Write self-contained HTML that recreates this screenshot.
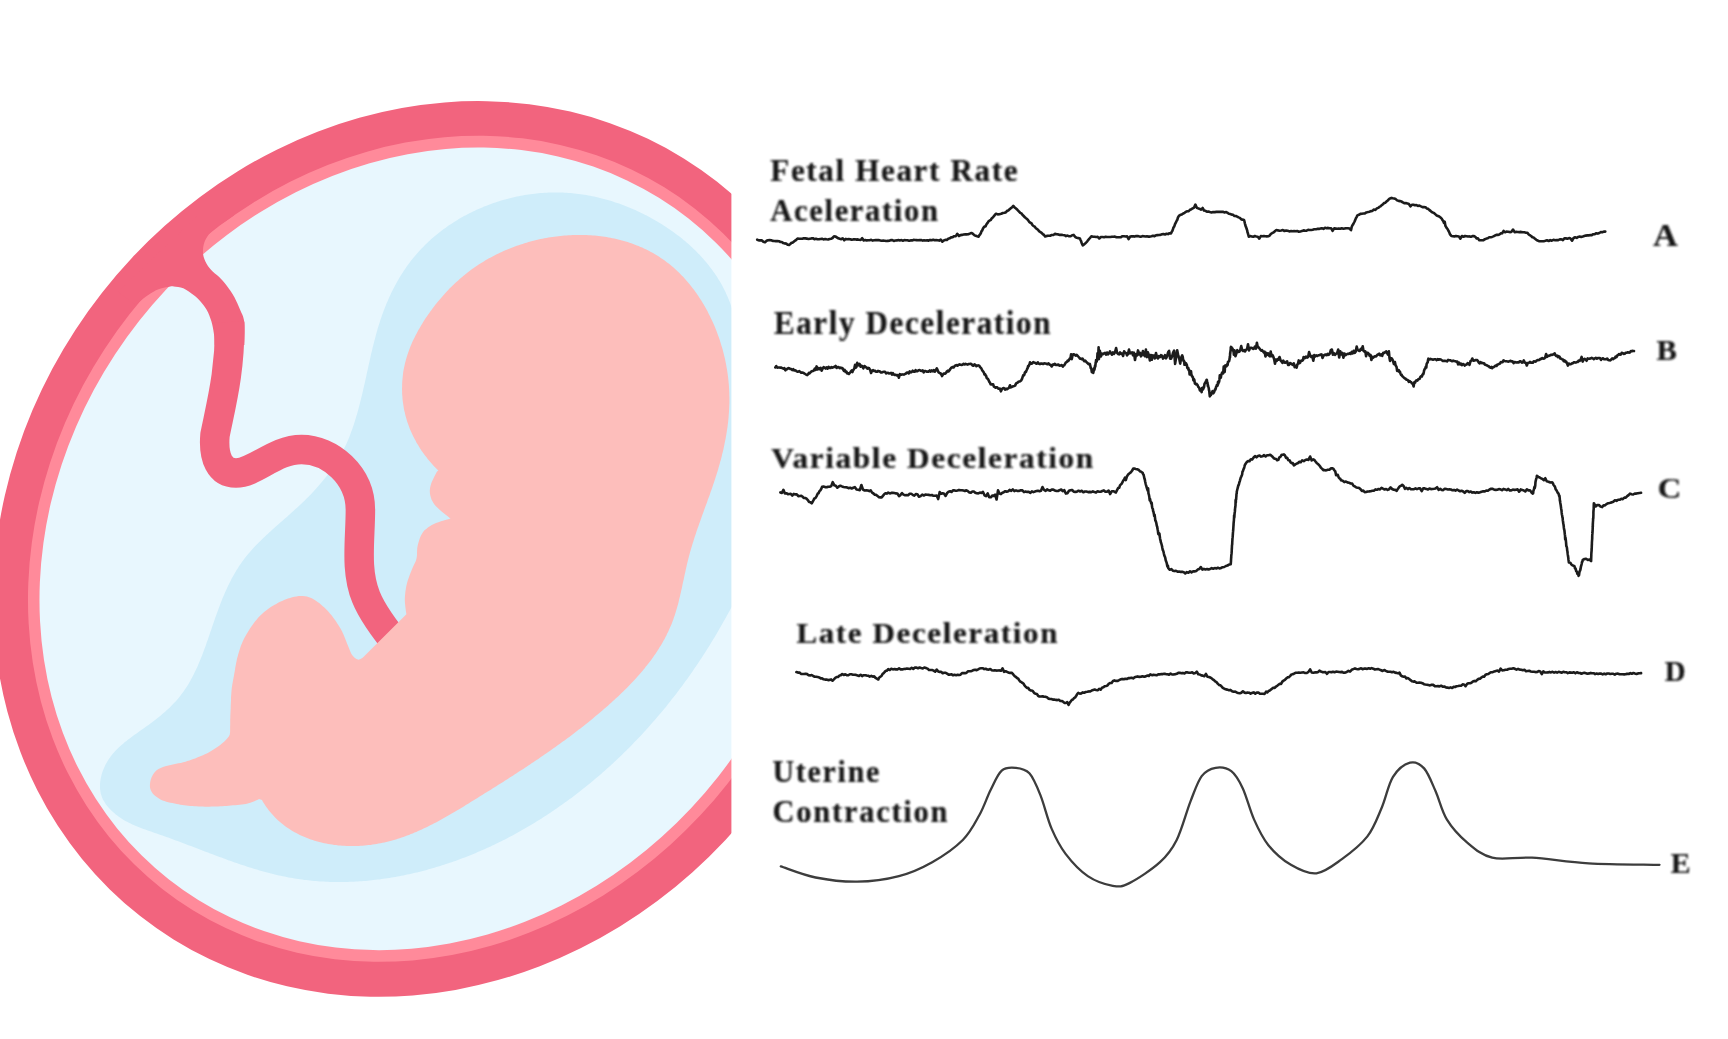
<!DOCTYPE html>
<html><head><meta charset="utf-8">
<style>
html,body{margin:0;padding:0;background:#fff;}
body{width:1728px;height:1039px;overflow:hidden;position:relative;}
svg{position:absolute;left:0;top:0;display:block;}
</style></head>
<body>
<svg width="1728" height="1039" viewBox="0 0 1728 1039">
<defs>
<mask id="clipL" maskUnits="userSpaceOnUse" x="0" y="0" width="1728" height="1039"><rect x="0" y="0" width="731.4" height="1039" fill="#fff"/></mask>
<filter id="blur1" x="-5%" y="-20%" width="110%" height="140%"><feGaussianBlur stdDeviation="0.75"/></filter>
<filter id="blur2" x="-5%" y="-20%" width="110%" height="140%"><feGaussianBlur stdDeviation="1.0"/></filter>
</defs>
<g mask="url(#clipL)">
<ellipse cx="428.65" cy="548.94" rx="415.15" ry="466.91" transform="rotate(38.16 428.65 548.94)" fill="#F2647E"/>
<ellipse cx="428.58" cy="548.80" rx="380.10" ry="431.99" transform="rotate(38.06 428.58 548.80)" fill="#FF8A9A"/>
<ellipse cx="428.58" cy="548.85" rx="368.44" ry="420.34" transform="rotate(38.20 428.58 548.85)" fill="#E8F7FE"/>
<path d="M556.6 192.5 L558.6 192.5 L560.6 192.6 L562.6 192.6 L564.6 192.7 L566.6 192.8 L568.6 193.0 L570.6 193.1 L572.5 193.3 L574.5 193.5 L576.5 193.7 L578.5 194.0 L580.4 194.2 L582.4 194.5 L584.4 194.8 L586.3 195.1 L588.3 195.5 L590.3 195.8 L592.2 196.2 L594.2 196.6 L596.1 197.0 L598.1 197.5 L600.0 198.0 L601.9 198.4 L603.9 198.9 L605.8 199.5 L607.7 200.0 L609.6 200.6 L611.5 201.1 L613.4 201.7 L615.3 202.4 L617.2 203.0 L619.1 203.6 L621.0 204.3 L622.9 205.0 L624.7 205.7 L626.6 206.4 L628.4 207.2 L630.3 208.0 L632.1 208.7 L634.0 209.5 L635.8 210.3 L637.6 211.2 L639.4 212.0 L641.2 212.9 L643.0 213.8 L644.8 214.7 L646.6 215.6 L648.4 216.5 L650.2 217.5 L651.9 218.5 L653.7 219.4 L655.4 220.4 L657.2 221.5 L658.9 222.5 L660.6 223.5 L662.3 224.6 L664.0 225.7 L665.7 226.8 L667.4 227.9 L669.0 229.0 L670.7 230.2 L672.3 231.3 L674.0 232.5 L675.6 233.7 L677.2 234.9 L678.8 236.1 L680.4 237.3 L682.0 238.6 L683.5 239.9 L685.0 241.1 L686.6 242.4 L688.1 243.8 L689.6 245.1 L691.1 246.4 L692.5 247.8 L694.0 249.2 L695.4 250.6 L696.8 252.0 L698.2 253.4 L699.6 254.8 L700.9 256.3 L702.3 257.8 L703.6 259.2 L704.9 260.7 L706.2 262.3 L707.4 263.8 L708.7 265.3 L709.9 266.9 L711.1 268.5 L712.3 270.1 L713.4 271.7 L714.6 273.3 L715.7 274.9 L716.8 276.6 L717.8 278.2 L718.9 279.9 L719.9 281.6 L720.9 283.3 L721.9 285.0 L722.8 286.8 L723.7 288.5 L724.6 290.3 L725.5 292.1 L726.3 293.9 L727.1 295.7 L727.9 297.5 L728.7 299.4 L729.4 301.2 L730.1 303.1 L730.8 305.0 L731.4 306.9 L732.1 308.8 L732.7 310.7 L733.3 312.7 L733.9 314.6 L734.4 316.5 L735.0 318.5 L735.5 320.5 L736.0 322.4 L736.5 324.4 L737.0 326.4 L737.5 328.3 L738.0 330.3 L738.5 332.3 L739.0 334.3 L739.4 336.3 L739.9 338.3 L740.4 340.2 L740.8 342.2 L741.3 344.2 L741.8 346.2 L742.3 348.1 L742.8 350.1 L743.3 352.1 L743.8 354.0 L744.3 356.0 L744.8 357.9 L745.3 359.9 L745.8 361.8 L746.3 363.7 L746.8 365.7 L747.3 367.6 L747.8 369.5 L748.3 371.5 L748.8 373.4 L749.4 375.3 L749.9 377.3 L750.4 379.2 L750.9 381.1 L751.4 383.0 L751.9 385.0 L752.4 386.9 L752.9 388.8 L753.4 390.8 L753.9 392.7 L754.4 394.6 L754.8 396.5 L755.3 398.5 L755.8 400.4 L756.2 402.3 L756.7 404.3 L757.2 406.2 L757.6 408.2 L758.0 410.1 L758.5 412.0 L758.9 414.0 L759.3 415.9 L759.7 417.9 L760.1 419.9 L760.5 421.8 L760.8 423.8 L761.2 425.8 L761.6 427.8 L761.9 429.7 L762.2 431.7 L762.6 433.7 L762.9 435.7 L763.2 437.7 L763.4 439.7 L763.7 441.7 L764.0 443.7 L764.2 445.7 L764.5 447.7 L764.7 449.7 L764.9 451.7 L765.1 453.7 L765.3 455.7 L765.5 457.7 L765.6 459.7 L765.8 461.8 L765.9 463.8 L766.1 465.8 L766.2 467.8 L766.3 469.8 L766.3 471.8 L766.4 473.9 L766.5 475.9 L766.5 477.9 L766.5 479.9 L766.5 481.9 L766.5 484.0 L766.5 486.0 L766.5 488.0 L766.4 490.0 L766.4 492.0 L766.3 494.0 L766.2 496.0 L766.1 498.0 L765.9 500.0 L765.8 502.1 L765.6 504.1 L765.4 506.1 L765.2 508.1 L765.0 510.1 L764.8 512.0 L764.5 514.0 L764.3 516.0 L764.0 518.0 L763.7 520.0 L763.4 522.0 L763.0 523.9 L762.7 525.9 L762.3 527.9 L761.9 529.8 L761.5 531.8 L761.0 533.8 L760.6 535.7 L760.1 537.7 L759.6 539.6 L759.1 541.5 L758.6 543.5 L758.0 545.4 L757.4 547.3 L756.9 549.2 L756.3 551.1 L755.6 553.0 L755.0 554.9 L754.3 556.8 L753.7 558.7 L753.0 560.6 L752.3 562.5 L751.5 564.4 L750.8 566.3 L750.1 568.1 L749.3 570.0 L748.5 571.9 L747.7 573.7 L747.0 575.6 L746.1 577.4 L745.3 579.3 L744.5 581.1 L743.6 582.9 L742.8 584.8 L741.9 586.6 L741.1 588.4 L740.2 590.2 L739.3 592.0 L738.4 593.9 L737.5 595.7 L736.6 597.5 L735.6 599.3 L734.7 601.1 L733.8 602.9 L732.9 604.6 L731.9 606.4 L731.0 608.2 L730.0 610.0 L729.1 611.8 L728.1 613.5 L727.1 615.3 L726.2 617.1 L725.2 618.8 L724.2 620.6 L723.2 622.3 L722.2 624.1 L721.2 625.8 L720.2 627.5 L719.2 629.3 L718.2 631.0 L717.2 632.7 L716.2 634.5 L715.2 636.2 L714.1 637.9 L713.1 639.6 L712.1 641.3 L711.0 643.0 L710.0 644.7 L708.9 646.4 L707.9 648.1 L706.8 649.8 L705.7 651.5 L704.6 653.2 L703.6 654.8 L702.5 656.5 L701.4 658.2 L700.3 659.8 L699.2 661.5 L698.1 663.2 L697.0 664.8 L695.9 666.5 L694.7 668.1 L693.6 669.8 L692.5 671.4 L691.4 673.0 L690.2 674.7 L689.1 676.3 L687.9 677.9 L686.8 679.5 L685.6 681.1 L684.4 682.7 L683.3 684.3 L682.1 685.9 L680.9 687.5 L679.7 689.1 L678.5 690.7 L677.3 692.3 L676.1 693.9 L674.9 695.4 L673.7 697.0 L672.4 698.6 L671.2 700.1 L670.0 701.7 L668.7 703.3 L667.5 704.8 L666.3 706.4 L665.0 707.9 L663.7 709.4 L662.5 711.0 L661.2 712.5 L659.9 714.0 L658.6 715.5 L657.3 717.1 L656.1 718.6 L654.8 720.1 L653.4 721.6 L652.1 723.1 L650.8 724.6 L649.5 726.1 L648.2 727.5 L646.8 729.0 L645.5 730.5 L644.1 732.0 L642.8 733.4 L641.4 734.9 L640.1 736.4 L638.7 737.8 L637.3 739.3 L635.9 740.7 L634.5 742.1 L633.2 743.6 L631.8 745.0 L630.4 746.4 L628.9 747.9 L627.5 749.3 L626.1 750.7 L624.7 752.1 L623.2 753.5 L621.8 754.9 L620.4 756.3 L618.9 757.7 L617.5 759.1 L616.0 760.4 L614.5 761.8 L613.1 763.2 L611.6 764.5 L610.1 765.9 L608.6 767.2 L607.1 768.6 L605.6 769.9 L604.1 771.3 L602.6 772.6 L601.1 773.9 L599.6 775.2 L598.1 776.5 L596.5 777.8 L595.0 779.1 L593.4 780.4 L591.9 781.7 L590.4 783.0 L588.8 784.3 L587.2 785.5 L585.7 786.8 L584.1 788.1 L582.5 789.3 L580.9 790.6 L579.4 791.8 L577.8 793.0 L576.2 794.2 L574.6 795.5 L573.0 796.7 L571.4 797.9 L569.7 799.1 L568.1 800.3 L566.5 801.5 L564.9 802.6 L563.2 803.8 L561.6 805.0 L559.9 806.1 L558.3 807.3 L556.6 808.4 L555.0 809.6 L553.3 810.7 L551.7 811.8 L550.0 813.0 L548.3 814.1 L546.6 815.2 L544.9 816.3 L543.3 817.3 L541.6 818.4 L539.9 819.5 L538.2 820.6 L536.5 821.6 L534.7 822.7 L533.0 823.7 L531.3 824.8 L529.6 825.8 L527.8 826.8 L526.1 827.8 L524.4 828.8 L522.6 829.8 L520.9 830.8 L519.1 831.8 L517.4 832.8 L515.6 833.7 L513.9 834.7 L512.1 835.7 L510.3 836.6 L508.5 837.5 L506.8 838.5 L505.0 839.4 L503.2 840.3 L501.4 841.2 L499.6 842.1 L497.8 843.0 L496.0 843.8 L494.2 844.7 L492.4 845.6 L490.6 846.4 L488.8 847.3 L486.9 848.1 L485.1 848.9 L483.3 849.7 L481.4 850.5 L479.6 851.3 L477.8 852.1 L475.9 852.9 L474.1 853.7 L472.2 854.4 L470.4 855.2 L468.5 855.9 L466.6 856.7 L464.8 857.4 L462.9 858.1 L461.0 858.8 L459.1 859.5 L457.3 860.2 L455.4 860.9 L453.5 861.5 L451.6 862.2 L449.7 862.8 L447.8 863.5 L445.9 864.1 L444.0 864.7 L442.1 865.3 L440.2 865.9 L438.3 866.5 L436.3 867.1 L434.4 867.7 L432.5 868.2 L430.6 868.8 L428.6 869.3 L426.7 869.9 L424.8 870.4 L422.8 870.9 L420.9 871.4 L418.9 871.9 L417.0 872.4 L415.0 872.8 L413.1 873.3 L411.1 873.7 L409.2 874.2 L407.2 874.6 L405.2 875.0 L403.3 875.4 L401.3 875.8 L399.3 876.2 L397.4 876.6 L395.4 876.9 L393.4 877.3 L391.5 877.6 L389.5 877.9 L387.5 878.2 L385.5 878.5 L383.5 878.8 L381.6 879.1 L379.6 879.4 L377.6 879.6 L375.6 879.8 L373.6 880.1 L371.6 880.3 L369.6 880.5 L367.7 880.7 L365.7 880.9 L363.7 881.0 L361.7 881.2 L359.7 881.3 L357.7 881.5 L355.7 881.6 L353.7 881.7 L351.7 881.8 L349.8 881.8 L347.8 881.9 L345.8 882.0 L343.8 882.0 L341.8 882.0 L339.8 882.0 L337.8 882.0 L335.8 882.0 L333.8 882.0 L331.9 881.9 L329.9 881.9 L327.9 881.8 L325.9 881.7 L323.9 881.6 L321.9 881.5 L320.0 881.4 L318.0 881.3 L316.0 881.1 L314.0 880.9 L312.0 880.7 L310.1 880.5 L308.1 880.3 L306.1 880.1 L304.2 879.9 L302.2 879.6 L300.2 879.3 L298.3 879.1 L296.3 878.8 L294.4 878.4 L292.4 878.1 L290.4 877.8 L288.5 877.4 L286.6 877.0 L284.6 876.6 L282.7 876.2 L280.7 875.8 L278.8 875.4 L276.8 874.9 L274.9 874.5 L273.0 874.0 L271.0 873.5 L269.1 873.0 L267.2 872.5 L265.3 872.0 L263.3 871.5 L261.4 870.9 L259.5 870.4 L257.6 869.8 L255.7 869.3 L253.8 868.7 L251.8 868.1 L249.9 867.5 L248.0 866.9 L246.1 866.3 L244.2 865.6 L242.3 865.0 L240.4 864.4 L238.5 863.7 L236.6 863.1 L234.7 862.4 L232.8 861.7 L230.9 861.1 L229.0 860.4 L227.1 859.7 L225.2 859.0 L223.3 858.3 L221.4 857.6 L219.5 856.9 L217.6 856.2 L215.7 855.5 L213.8 854.8 L211.9 854.1 L210.0 853.4 L208.1 852.6 L206.2 851.9 L204.3 851.2 L202.4 850.5 L200.5 849.7 L198.6 849.0 L196.7 848.3 L194.8 847.6 L192.9 846.8 L191.0 846.1 L189.1 845.4 L187.2 844.7 L185.3 843.9 L183.4 843.2 L181.5 842.5 L179.6 841.8 L177.7 841.1 L175.8 840.4 L173.9 839.7 L172.0 839.0 L170.1 838.3 L168.2 837.6 L166.3 836.9 L164.4 836.2 L162.5 835.5 L160.6 834.9 L158.6 834.2 L156.7 833.5 L154.8 832.9 L152.9 832.2 L151.0 831.6 L149.1 830.9 L147.2 830.2 L145.3 829.5 L143.4 828.9 L141.6 828.2 L139.7 827.4 L137.9 826.7 L136.0 826.0 L134.2 825.2 L132.4 824.4 L130.6 823.5 L128.9 822.7 L127.1 821.8 L125.4 820.9 L123.7 819.9 L122.1 818.9 L120.4 817.8 L118.8 816.7 L117.2 815.6 L115.7 814.4 L114.2 813.1 L112.7 811.8 L111.3 810.5 L109.9 809.0 L108.5 807.6 L107.2 806.0 L106.0 804.4 L104.9 802.8 L103.9 801.1 L102.9 799.4 L102.1 797.6 L101.5 795.8 L100.9 793.9 L100.5 792.0 L100.2 790.0 L100.0 788.1 L100.0 786.1 L100.0 784.1 L100.2 782.1 L100.5 780.1 L100.8 778.1 L101.3 776.1 L101.8 774.1 L102.4 772.1 L103.1 770.2 L103.9 768.2 L104.7 766.4 L105.6 764.5 L106.6 762.7 L107.6 761.0 L108.7 759.3 L109.8 757.7 L111.0 756.1 L112.2 754.5 L113.5 753.0 L114.8 751.5 L116.2 750.1 L117.5 748.7 L119.0 747.3 L120.4 746.0 L121.9 744.7 L123.4 743.4 L124.9 742.1 L126.5 740.9 L128.1 739.6 L129.7 738.4 L131.3 737.2 L132.9 736.0 L134.5 734.8 L136.2 733.7 L137.9 732.5 L139.5 731.3 L141.2 730.1 L142.8 729.0 L144.5 727.8 L146.2 726.6 L147.8 725.4 L149.5 724.2 L151.1 722.9 L152.8 721.7 L154.4 720.5 L156.0 719.2 L157.6 718.0 L159.2 716.7 L160.8 715.4 L162.3 714.1 L163.9 712.8 L165.4 711.5 L166.9 710.1 L168.4 708.8 L169.8 707.4 L171.2 706.0 L172.6 704.6 L174.0 703.1 L175.4 701.7 L176.7 700.2 L178.0 698.7 L179.2 697.2 L180.4 695.7 L181.6 694.1 L182.8 692.5 L183.9 690.9 L185.0 689.3 L186.1 687.7 L187.2 686.1 L188.2 684.4 L189.2 682.7 L190.2 681.0 L191.1 679.3 L192.1 677.6 L193.0 675.8 L193.9 674.1 L194.7 672.3 L195.6 670.5 L196.4 668.7 L197.3 666.9 L198.1 665.1 L198.8 663.3 L199.6 661.4 L200.4 659.6 L201.1 657.7 L201.9 655.9 L202.6 654.0 L203.3 652.1 L204.0 650.2 L204.7 648.3 L205.4 646.4 L206.1 644.5 L206.7 642.6 L207.4 640.7 L208.1 638.8 L208.7 636.9 L209.4 634.9 L210.0 633.0 L210.7 631.1 L211.4 629.2 L212.0 627.2 L212.7 625.3 L213.3 623.4 L214.0 621.5 L214.7 619.5 L215.3 617.6 L216.0 615.7 L216.7 613.8 L217.4 611.9 L218.1 610.0 L218.8 608.1 L219.5 606.2 L220.2 604.3 L220.9 602.4 L221.7 600.5 L222.4 598.6 L223.2 596.8 L224.0 594.9 L224.8 593.1 L225.6 591.2 L226.4 589.4 L227.3 587.6 L228.1 585.8 L229.0 584.0 L229.9 582.2 L230.8 580.4 L231.7 578.6 L232.6 576.9 L233.6 575.2 L234.6 573.4 L235.6 571.7 L236.6 570.0 L237.7 568.4 L238.7 566.7 L239.8 565.1 L241.0 563.4 L242.1 561.8 L243.3 560.2 L244.5 558.6 L245.7 557.1 L246.9 555.5 L248.2 554.0 L249.5 552.5 L250.8 551.0 L252.1 549.5 L253.4 548.0 L254.8 546.6 L256.2 545.1 L257.6 543.7 L259.0 542.3 L260.4 540.9 L261.8 539.5 L263.3 538.1 L264.7 536.7 L266.2 535.3 L267.7 533.9 L269.2 532.5 L270.7 531.2 L272.2 529.8 L273.7 528.5 L275.2 527.1 L276.7 525.8 L278.2 524.4 L279.8 523.1 L281.3 521.7 L282.8 520.4 L284.3 519.1 L285.9 517.7 L287.4 516.4 L288.9 515.0 L290.4 513.7 L291.9 512.3 L293.4 511.0 L294.9 509.6 L296.4 508.3 L297.9 506.9 L299.4 505.6 L300.8 504.2 L302.3 502.8 L303.7 501.4 L305.2 500.0 L306.6 498.6 L308.0 497.2 L309.4 495.8 L310.8 494.4 L312.1 492.9 L313.5 491.5 L314.8 490.0 L316.2 488.6 L317.5 487.1 L318.8 485.6 L320.1 484.1 L321.4 482.6 L322.6 481.1 L323.9 479.6 L325.1 478.1 L326.3 476.5 L327.5 475.0 L328.7 473.4 L329.9 471.8 L331.0 470.2 L332.1 468.6 L333.2 467.0 L334.3 465.4 L335.4 463.7 L336.5 462.1 L337.5 460.4 L338.5 458.7 L339.5 457.0 L340.5 455.3 L341.5 453.6 L342.4 451.8 L343.3 450.1 L344.2 448.3 L345.1 446.5 L346.0 444.7 L346.8 442.9 L347.6 441.0 L348.4 439.2 L349.2 437.3 L349.9 435.4 L350.6 433.5 L351.3 431.6 L352.0 429.7 L352.7 427.8 L353.4 425.8 L354.0 423.9 L354.6 422.0 L355.2 420.0 L355.8 418.1 L356.4 416.1 L357.0 414.2 L357.5 412.2 L358.1 410.3 L358.6 408.3 L359.1 406.4 L359.6 404.4 L360.1 402.5 L360.6 400.5 L361.1 398.5 L361.6 396.6 L362.1 394.6 L362.5 392.7 L363.0 390.7 L363.4 388.8 L363.9 386.8 L364.3 384.8 L364.8 382.9 L365.2 380.9 L365.6 379.0 L366.1 377.0 L366.5 375.1 L366.9 373.1 L367.3 371.2 L367.8 369.2 L368.2 367.3 L368.6 365.3 L369.0 363.4 L369.5 361.4 L369.9 359.5 L370.4 357.5 L370.8 355.6 L371.2 353.6 L371.7 351.7 L372.2 349.7 L372.6 347.8 L373.1 345.9 L373.6 343.9 L374.1 342.0 L374.6 340.1 L375.1 338.2 L375.6 336.2 L376.1 334.3 L376.6 332.4 L377.2 330.5 L377.7 328.6 L378.3 326.7 L378.9 324.8 L379.5 322.9 L380.1 321.0 L380.7 319.1 L381.4 317.2 L382.0 315.3 L382.7 313.4 L383.4 311.5 L384.1 309.7 L384.8 307.8 L385.6 305.9 L386.3 304.1 L387.1 302.2 L387.9 300.4 L388.7 298.6 L389.5 296.7 L390.4 294.9 L391.2 293.1 L392.1 291.3 L393.0 289.5 L393.9 287.7 L394.8 286.0 L395.8 284.2 L396.7 282.5 L397.7 280.7 L398.7 279.0 L399.7 277.3 L400.8 275.6 L401.8 273.9 L402.9 272.2 L404.0 270.5 L405.1 268.9 L406.2 267.2 L407.4 265.6 L408.6 264.0 L409.7 262.4 L410.9 260.8 L412.2 259.3 L413.4 257.7 L414.7 256.2 L416.0 254.7 L417.3 253.2 L418.6 251.7 L420.0 250.2 L421.3 248.8 L422.7 247.4 L424.1 245.9 L425.5 244.5 L426.9 243.2 L428.4 241.8 L429.9 240.4 L431.3 239.1 L432.8 237.8 L434.3 236.5 L435.9 235.2 L437.4 234.0 L439.0 232.7 L440.6 231.5 L442.1 230.3 L443.7 229.1 L445.4 227.9 L447.0 226.7 L448.6 225.6 L450.3 224.5 L452.0 223.4 L453.7 222.3 L455.4 221.2 L457.1 220.2 L458.8 219.1 L460.5 218.1 L462.3 217.1 L464.0 216.1 L465.8 215.2 L467.6 214.3 L469.4 213.3 L471.2 212.4 L473.0 211.5 L474.8 210.7 L476.6 209.8 L478.5 209.0 L480.3 208.2 L482.2 207.4 L484.0 206.6 L485.9 205.9 L487.8 205.2 L489.7 204.5 L491.6 203.8 L493.5 203.1 L495.4 202.4 L497.3 201.8 L499.2 201.2 L501.1 200.6 L503.1 200.0 L505.0 199.5 L507.0 199.0 L508.9 198.4 L510.9 198.0 L512.8 197.5 L514.8 197.0 L516.8 196.6 L518.7 196.2 L520.7 195.8 L522.7 195.5 L524.7 195.1 L526.7 194.8 L528.6 194.5 L530.6 194.2 L532.6 193.9 L534.6 193.7 L536.6 193.5 L538.6 193.3 L540.6 193.1 L542.6 193.0 L544.6 192.8 L546.6 192.7 L548.6 192.6 L550.6 192.6 L552.6 192.5 L554.6 192.5 L556.6 192.5 Z" fill="#CFEDFA"/>
<path d="M234.0 215.5 C232.8 216.3 229.4 218.7 226.6 220.5 C223.8 222.3 219.7 224.5 217.0 226.5 C214.3 228.5 212.4 229.9 210.3 232.5 C208.2 235.1 205.7 238.7 204.5 242.1 C203.3 245.5 202.8 249.5 203.0 252.7 C203.2 255.9 204.0 258.5 205.4 261.4 C206.8 264.3 208.9 267.4 211.2 270.0 C213.4 272.6 216.3 274.2 218.9 276.8 C221.5 279.4 224.0 282.0 226.6 285.4 C229.2 288.8 232.1 293.0 234.3 297.0 C236.5 301.0 238.3 305.3 240.0 309.5 C241.7 313.7 243.6 316.1 244.3 322.0 C245.0 327.9 244.4 341.2 244.4 345.0 L214.8 345.0 C214.6 343.0 214.4 337.0 213.8 333.0 C213.2 329.0 212.5 324.8 211.3 321.0 C210.1 317.2 208.6 313.2 206.8 310.0 C205.0 306.8 202.7 303.9 200.5 301.5 C198.3 299.1 196.8 297.5 193.9 295.3 C191.0 293.1 186.7 289.8 183.3 288.3 C179.9 286.8 176.3 286.6 173.7 286.4 C171.1 286.2 170.2 286.6 167.9 287.0 C165.6 287.4 162.2 288.1 160.0 288.8 C157.8 289.5 156.7 289.9 154.4 291.2 C152.1 292.5 149.1 294.2 146.0 296.5 C142.9 298.8 137.7 303.6 136.0 305.0 L118 292 L216 198 Z" fill="#F2647E"/>
<path d="M229.6 322 C230.5 370 221 405 215 435 C213 458 220 473 236 473 C255 473 275 449.4 301.5 449.4 C330 449.4 360.4 475 360.4 510 C360.4 540 355 570 366 597 C372 612 385 630 400 648" fill="none" stroke="#F2647E" stroke-width="29.5" stroke-linecap="butt"/>
<path d="M450.6 518.6 L450.1 518.2 L449.1 517.4 L447.7 516.3 L446.0 515.0 L444.1 513.5 L442.2 511.9 L440.2 510.2 L438.3 508.5 L436.5 506.8 L435.0 505.2 L433.9 503.8 L432.6 501.6 L431.5 499.5 L430.8 497.3 L430.2 495.1 L429.9 493.0 L429.8 490.6 L430.0 488.3 L430.5 486.0 L431.2 483.6 L432.0 481.4 L433.2 478.9 L434.5 476.3 L435.7 474.0 L436.6 472.3 L437.1 471.4 L438.4 470.6 L437.0 469.2 L435.6 467.8 L434.2 466.4 L432.9 464.9 L431.6 463.5 L430.3 462.0 L429.0 460.5 L427.7 458.9 L426.5 457.3 L425.2 455.8 L424.1 454.2 L422.9 452.5 L421.7 450.9 L420.6 449.2 L419.5 447.5 L418.5 445.8 L417.4 444.1 L416.4 442.4 L415.5 440.6 L414.5 438.8 L413.6 437.1 L412.7 435.3 L411.9 433.4 L411.0 431.6 L410.2 429.8 L409.5 427.9 L408.8 426.0 L408.1 424.1 L407.4 422.3 L406.8 420.3 L406.3 418.4 L405.7 416.5 L405.2 414.6 L404.8 412.6 L404.3 410.7 L403.9 408.7 L403.6 406.7 L403.3 404.8 L403.0 402.8 L402.7 400.8 L402.5 398.8 L402.4 396.8 L402.2 394.8 L402.1 392.9 L402.1 390.9 L402.0 388.9 L402.1 386.9 L402.1 384.9 L402.2 382.9 L402.3 380.9 L402.5 378.9 L402.7 377.0 L402.9 375.0 L403.1 373.0 L403.4 371.1 L403.8 369.1 L404.2 367.1 L404.6 365.2 L405.0 363.3 L405.5 361.4 L406.0 359.4 L406.6 357.5 L407.2 355.6 L407.8 353.8 L408.4 351.9 L409.1 350.0 L409.8 348.2 L410.5 346.3 L411.3 344.5 L412.1 342.6 L412.9 340.8 L413.8 339.0 L414.7 337.2 L415.5 335.4 L416.5 333.7 L417.4 331.9 L418.4 330.1 L419.4 328.4 L420.4 326.7 L421.4 324.9 L422.5 323.2 L423.5 321.5 L424.6 319.8 L425.7 318.1 L426.9 316.5 L428.0 314.8 L429.2 313.2 L430.3 311.5 L431.5 309.9 L432.7 308.3 L433.9 306.7 L435.1 305.1 L436.4 303.6 L437.6 302.0 L438.9 300.5 L440.2 298.9 L441.5 297.4 L442.8 295.9 L444.1 294.4 L445.4 293.0 L446.8 291.5 L448.2 290.1 L449.5 288.6 L450.9 287.2 L452.4 285.8 L453.8 284.4 L455.2 283.1 L456.7 281.7 L458.2 280.4 L459.7 279.0 L461.2 277.7 L462.7 276.5 L464.2 275.2 L465.8 273.9 L467.3 272.7 L468.9 271.5 L470.5 270.3 L472.1 269.1 L473.7 267.9 L475.4 266.8 L477.0 265.7 L478.7 264.6 L480.4 263.5 L482.1 262.4 L483.8 261.4 L485.5 260.3 L487.3 259.3 L489.0 258.3 L490.8 257.4 L492.6 256.4 L494.4 255.5 L496.2 254.6 L498.0 253.7 L499.9 252.8 L501.7 251.9 L503.6 251.1 L505.4 250.3 L507.3 249.5 L509.2 248.7 L511.1 248.0 L513.0 247.2 L514.9 246.5 L516.8 245.8 L518.7 245.2 L520.7 244.5 L522.6 243.9 L524.5 243.3 L526.5 242.7 L528.5 242.1 L530.4 241.6 L532.4 241.0 L534.4 240.5 L536.4 240.1 L538.4 239.6 L540.4 239.1 L542.4 238.7 L544.4 238.3 L546.4 238.0 L548.4 237.6 L550.4 237.3 L552.4 237.0 L554.4 236.7 L556.4 236.4 L558.5 236.2 L560.5 235.9 L562.5 235.7 L564.5 235.6 L566.5 235.4 L568.6 235.3 L570.6 235.2 L572.6 235.1 L574.6 235.0 L576.7 235.0 L578.7 234.9 L580.7 234.9 L582.7 235.0 L584.7 235.0 L586.7 235.1 L588.7 235.2 L590.7 235.3 L592.7 235.5 L594.7 235.6 L596.7 235.8 L598.7 236.0 L600.7 236.3 L602.6 236.5 L604.6 236.8 L606.6 237.1 L608.5 237.4 L610.5 237.8 L612.4 238.2 L614.3 238.6 L616.3 239.0 L618.2 239.5 L620.1 240.0 L622.0 240.5 L623.9 241.0 L625.7 241.5 L627.6 242.1 L629.5 242.7 L631.3 243.3 L633.2 244.0 L635.0 244.7 L636.8 245.4 L638.6 246.1 L640.4 246.9 L642.2 247.6 L643.9 248.4 L645.7 249.3 L647.4 250.1 L649.2 251.0 L650.9 251.9 L652.6 252.8 L654.2 253.8 L655.9 254.8 L657.6 255.8 L659.2 256.8 L660.8 257.9 L662.4 259.0 L664.0 260.1 L665.6 261.2 L667.1 262.4 L668.7 263.6 L670.2 264.8 L671.7 266.1 L673.2 267.3 L674.6 268.6 L676.1 269.9 L677.5 271.3 L678.9 272.6 L680.3 274.0 L681.7 275.4 L683.1 276.8 L684.4 278.3 L685.7 279.8 L687.0 281.2 L688.3 282.8 L689.6 284.3 L690.8 285.8 L692.1 287.4 L693.3 289.0 L694.5 290.6 L695.7 292.2 L696.8 293.8 L698.0 295.5 L699.1 297.2 L700.2 298.9 L701.3 300.6 L702.3 302.3 L703.4 304.0 L704.4 305.8 L705.4 307.5 L706.4 309.3 L707.4 311.1 L708.3 312.9 L709.2 314.7 L710.1 316.5 L711.0 318.4 L711.9 320.2 L712.7 322.1 L713.6 324.0 L714.4 325.8 L715.2 327.7 L715.9 329.6 L716.7 331.6 L717.4 333.5 L718.1 335.4 L718.8 337.3 L719.5 339.3 L720.1 341.2 L720.7 343.2 L721.3 345.2 L721.9 347.1 L722.5 349.1 L723.0 351.1 L723.5 353.1 L724.0 355.1 L724.5 357.1 L725.0 359.1 L725.4 361.1 L725.8 363.1 L726.2 365.1 L726.5 367.1 L726.9 369.1 L727.2 371.1 L727.5 373.1 L727.8 375.1 L728.1 377.2 L728.3 379.2 L728.5 381.2 L728.7 383.2 L728.9 385.2 L729.0 387.2 L729.1 389.2 L729.2 391.2 L729.3 393.2 L729.3 395.2 L729.4 397.2 L729.4 399.2 L729.4 401.2 L729.4 403.2 L729.3 405.2 L729.2 407.2 L729.1 409.2 L729.0 411.2 L728.9 413.1 L728.7 415.1 L728.6 417.1 L728.4 419.1 L728.2 421.0 L728.0 423.0 L727.7 425.0 L727.5 426.9 L727.2 428.9 L726.9 430.8 L726.6 432.8 L726.3 434.8 L725.9 436.7 L725.6 438.7 L725.2 440.6 L724.8 442.5 L724.4 444.5 L724.0 446.4 L723.6 448.4 L723.2 450.3 L722.7 452.2 L722.2 454.1 L721.8 456.1 L721.3 458.0 L720.8 459.9 L720.2 461.8 L719.7 463.7 L719.2 465.6 L718.6 467.6 L718.1 469.5 L717.5 471.4 L716.9 473.3 L716.3 475.2 L715.7 477.1 L715.1 478.9 L714.5 480.8 L713.9 482.7 L713.2 484.6 L712.6 486.5 L711.9 488.4 L711.3 490.3 L710.6 492.1 L710.0 494.0 L709.3 495.9 L708.6 497.8 L707.9 499.6 L707.3 501.5 L706.6 503.4 L705.9 505.3 L705.2 507.1 L704.5 509.0 L703.8 510.9 L703.2 512.8 L702.5 514.6 L701.8 516.5 L701.1 518.4 L700.5 520.3 L699.8 522.2 L699.1 524.1 L698.5 525.9 L697.8 527.8 L697.1 529.7 L696.5 531.6 L695.9 533.5 L695.2 535.4 L694.6 537.3 L694.0 539.2 L693.4 541.2 L692.8 543.1 L692.2 545.0 L691.6 546.9 L691.0 548.9 L690.5 550.8 L689.9 552.7 L689.4 554.7 L688.9 556.6 L688.4 558.6 L687.9 560.5 L687.4 562.5 L686.9 564.5 L686.5 566.5 L686.0 568.4 L685.6 570.4 L685.2 572.4 L684.7 574.4 L684.3 576.4 L683.9 578.4 L683.5 580.3 L683.0 582.3 L682.6 584.3 L682.2 586.3 L681.8 588.3 L681.3 590.3 L680.9 592.2 L680.4 594.2 L680.0 596.2 L679.5 598.1 L679.0 600.1 L678.6 602.0 L678.1 604.0 L677.5 605.9 L677.0 607.8 L676.4 609.7 L675.9 611.6 L675.3 613.5 L674.7 615.4 L674.0 617.3 L673.4 619.2 L672.7 621.0 L672.0 622.9 L671.3 624.7 L670.5 626.5 L669.7 628.3 L668.9 630.1 L668.1 631.9 L667.2 633.6 L666.4 635.4 L665.5 637.1 L664.6 638.9 L663.6 640.6 L662.7 642.3 L661.7 644.0 L660.7 645.7 L659.6 647.3 L658.6 649.0 L657.5 650.7 L656.5 652.3 L655.4 653.9 L654.2 655.6 L653.1 657.2 L652.0 658.8 L650.8 660.4 L649.6 662.0 L648.4 663.5 L647.2 665.1 L645.9 666.6 L644.7 668.2 L643.4 669.7 L642.2 671.3 L640.9 672.8 L639.6 674.3 L638.2 675.8 L636.9 677.3 L635.6 678.7 L634.2 680.2 L632.8 681.7 L631.5 683.1 L630.1 684.6 L628.7 686.0 L627.3 687.5 L625.8 688.9 L624.4 690.3 L623.0 691.7 L621.5 693.1 L620.1 694.5 L618.6 695.9 L617.2 697.3 L615.7 698.6 L614.2 700.0 L612.7 701.3 L611.2 702.7 L609.7 704.0 L608.2 705.4 L606.7 706.7 L605.2 708.0 L603.7 709.3 L602.1 710.7 L600.6 712.0 L599.1 713.3 L597.6 714.6 L596.0 715.8 L594.5 717.1 L592.9 718.4 L591.4 719.7 L589.8 720.9 L588.3 722.2 L586.7 723.4 L585.1 724.7 L583.6 725.9 L582.0 727.2 L580.4 728.4 L578.8 729.6 L577.3 730.8 L575.7 732.1 L574.1 733.3 L572.5 734.5 L570.9 735.7 L569.3 736.9 L567.7 738.1 L566.1 739.3 L564.5 740.4 L562.8 741.6 L561.2 742.8 L559.6 744.0 L558.0 745.1 L556.4 746.3 L554.7 747.5 L553.1 748.6 L551.5 749.8 L549.8 750.9 L548.2 752.1 L546.5 753.2 L544.9 754.3 L543.2 755.5 L541.6 756.6 L539.9 757.7 L538.3 758.9 L536.6 760.0 L535.0 761.1 L533.3 762.2 L531.6 763.3 L530.0 764.4 L528.3 765.5 L526.6 766.7 L525.0 767.8 L523.3 768.9 L521.6 770.0 L519.9 771.0 L518.3 772.1 L516.6 773.2 L514.9 774.3 L513.2 775.4 L511.5 776.5 L509.8 777.6 L508.1 778.7 L506.5 779.7 L504.8 780.8 L503.1 781.9 L501.4 783.0 L499.7 784.0 L498.0 785.1 L496.3 786.2 L494.6 787.2 L492.9 788.3 L491.2 789.4 L489.5 790.5 L487.8 791.5 L486.1 792.6 L484.4 793.6 L482.6 794.7 L480.9 795.8 L479.2 796.8 L477.5 797.9 L475.8 799.0 L474.1 800.0 L472.4 801.1 L470.7 802.1 L469.0 803.2 L467.2 804.3 L465.5 805.3 L463.8 806.4 L462.1 807.4 L460.4 808.5 L458.7 809.5 L456.9 810.5 L455.2 811.6 L453.5 812.6 L451.7 813.6 L450.0 814.6 L448.3 815.6 L446.5 816.6 L444.8 817.6 L443.0 818.6 L441.3 819.5 L439.5 820.5 L437.8 821.4 L436.0 822.4 L434.2 823.3 L432.5 824.2 L430.7 825.1 L428.9 826.0 L427.1 826.9 L425.3 827.8 L423.6 828.6 L421.8 829.5 L419.9 830.3 L418.1 831.1 L416.3 831.9 L414.5 832.6 L412.7 833.4 L410.8 834.1 L409.0 834.9 L407.1 835.6 L405.3 836.3 L403.4 836.9 L401.6 837.6 L399.7 838.2 L397.8 838.8 L395.9 839.4 L394.0 839.9 L392.1 840.5 L390.2 841.0 L388.3 841.5 L386.3 842.0 L384.4 842.4 L382.5 842.8 L380.5 843.2 L378.5 843.6 L376.6 844.0 L374.6 844.3 L372.6 844.6 L370.6 844.9 L368.6 845.1 L366.6 845.3 L364.6 845.5 L362.5 845.7 L360.5 845.8 L358.5 845.9 L356.5 846.0 L354.4 846.0 L352.4 846.0 L350.4 846.0 L348.3 846.0 L346.3 845.9 L344.3 845.8 L342.3 845.7 L340.2 845.6 L338.2 845.4 L336.2 845.1 L334.2 844.9 L332.2 844.6 L330.2 844.3 L328.2 844.0 L326.2 843.6 L324.3 843.2 L322.3 842.8 L320.4 842.3 L318.4 841.8 L316.5 841.2 L314.6 840.7 L312.7 840.1 L310.8 839.4 L308.9 838.8 L307.1 838.1 L305.2 837.3 L303.4 836.6 L301.6 835.8 L299.8 834.9 L298.0 834.0 L296.3 833.1 L294.5 832.2 L292.8 831.2 L291.2 830.2 L289.5 829.1 L287.8 828.0 L286.2 826.9 L284.6 825.8 L283.1 824.6 L281.5 823.3 L280.0 822.0 L278.5 820.7 L277.1 819.4 L275.6 818.0 L274.2 816.6 L272.9 815.1 L271.5 813.6 L270.2 812.0 L268.9 810.5 L267.7 808.8 L266.5 807.2 L265.3 805.5 L264.2 803.7 L263.0 801.9 L262.0 800.1 L259.0 799.1 L258.2 799.5 L256.5 800.3 L254.3 801.3 L251.8 802.3 L249.4 803.1 L247.7 803.5 L245.8 803.9 L243.9 804.2 L241.8 804.5 L239.7 804.7 L237.5 805.0 L235.3 805.2 L233.0 805.3 L230.8 805.5 L228.6 805.7 L226.5 805.9 L224.5 806.0 L222.3 806.2 L220.2 806.3 L218.0 806.4 L215.8 806.5 L213.6 806.6 L211.4 806.6 L209.2 806.7 L207.1 806.7 L204.9 806.7 L202.7 806.6 L200.7 806.5 L198.6 806.4 L196.6 806.3 L194.5 806.2 L192.4 806.0 L190.4 805.9 L188.3 805.7 L186.3 805.4 L184.3 805.2 L182.3 804.9 L180.4 804.7 L178.5 804.3 L176.7 804.0 L174.6 803.6 L172.4 803.1 L170.3 802.7 L168.3 802.2 L166.3 801.7 L164.4 801.1 L162.6 800.4 L160.9 799.7 L159.3 798.8 L157.5 797.6 L155.7 796.3 L154.1 794.9 L152.7 793.4 L151.6 791.8 L150.7 790.1 L150.1 788.1 L149.9 786.0 L150.0 783.8 L150.3 781.6 L150.8 779.6 L151.5 777.6 L152.5 775.5 L153.7 773.6 L155.1 771.8 L156.6 770.3 L158.5 768.9 L160.7 767.9 L163.0 767.1 L165.3 766.3 L167.4 765.7 L169.5 765.2 L171.7 764.8 L173.9 764.3 L176.1 763.8 L178.4 763.3 L180.8 762.9 L183.2 762.3 L185.5 761.7 L187.4 761.1 L189.4 760.5 L191.3 759.8 L193.3 759.1 L195.2 758.4 L197.1 757.6 L199.1 756.8 L201.0 756.0 L202.9 755.2 L204.9 754.3 L206.8 753.4 L208.7 752.4 L210.7 751.3 L212.7 750.1 L214.7 748.8 L216.6 747.5 L218.5 746.2 L220.2 744.9 L222.2 743.3 L224.1 741.7 L225.8 740.0 L227.2 738.5 L228.8 736.5 L229.8 734.5 L230.1 731.8 L230.1 728.7 L230.1 726.7 L230.2 724.5 L230.2 722.3 L230.2 720.0 L230.3 718.1 L230.3 716.2 L230.4 714.3 L230.5 712.2 L230.6 710.0 L230.7 708.3 L230.7 706.4 L230.8 704.4 L230.9 702.3 L231.0 700.2 L231.0 698.1 L231.1 696.0 L231.3 693.9 L231.4 691.9 L231.6 690.0 L231.8 687.9 L232.1 685.9 L232.4 683.9 L232.8 682.0 L233.1 680.1 L233.5 678.0 L233.9 675.9 L234.2 673.9 L234.6 671.9 L235.0 669.8 L235.3 667.6 L235.7 665.4 L236.1 663.2 L236.6 661.0 L237.0 658.8 L237.6 656.7 L238.1 654.7 L238.7 652.7 L239.3 650.8 L239.9 648.9 L240.5 647.1 L241.1 645.2 L241.9 643.4 L242.7 641.6 L243.5 639.7 L244.5 637.8 L245.5 636.0 L246.5 634.2 L247.6 632.4 L248.8 630.5 L250.0 628.6 L251.2 626.8 L252.5 624.9 L253.9 623.1 L255.2 621.3 L256.6 619.7 L257.9 618.1 L259.3 616.6 L260.9 615.0 L262.5 613.5 L264.1 612.1 L265.8 610.8 L267.4 609.5 L269.1 608.3 L270.8 607.1 L272.5 606.0 L274.2 605.0 L276.2 603.9 L278.1 602.8 L280.1 601.8 L282.1 600.9 L284.1 600.0 L286.0 599.3 L288.0 598.6 L290.1 597.9 L292.2 597.3 L294.4 596.8 L296.5 596.4 L298.6 596.1 L300.6 596.0 L302.8 596.0 L304.9 596.2 L306.9 596.6 L309.0 597.2 L311.2 598.0 L312.7 598.8 L314.3 599.7 L315.9 600.7 L317.6 601.9 L319.2 603.1 L320.9 604.5 L322.5 605.9 L324.1 607.3 L325.6 608.8 L327.1 610.3 L328.5 611.8 L329.9 613.4 L331.3 615.0 L332.6 616.7 L333.9 618.5 L335.2 620.3 L336.4 622.1 L337.6 623.9 L338.8 625.7 L339.9 627.5 L340.9 629.3 L342.0 631.3 L342.9 633.3 L343.9 635.4 L344.7 637.5 L345.5 639.6 L346.3 641.6 L347.0 643.5 L347.8 645.3 L348.5 647.0 L349.5 649.4 L350.4 651.7 L351.3 653.7 L352.5 655.5 L354.3 657.5 L356.4 659.1 L358.5 659.8 L360.6 659.1 L362.6 657.7 L363.7 656.8 L406.4 614.3 L406.3 613.5 L406.0 611.9 L405.7 609.7 L405.4 607.2 L405.1 604.5 L404.9 601.9 L404.8 599.5 L404.9 597.5 L405.0 595.5 L405.2 593.4 L405.4 591.4 L405.8 589.3 L406.1 587.3 L406.5 585.3 L407.0 583.3 L407.6 581.1 L408.3 578.9 L409.1 576.7 L409.9 574.5 L410.7 572.4 L411.5 570.4 L412.3 568.5 L413.2 566.5 L414.1 564.6 L415.0 562.8 L415.8 561.0 L416.4 559.0 L416.8 556.9 L417.0 554.7 L417.0 552.4 L417.1 550.1 L417.3 547.8 L417.7 545.6 L418.2 543.6 L418.8 541.5 L419.4 539.5 L420.1 537.4 L421.0 535.5 L422.0 533.7 L423.1 532.0 L424.5 530.3 L426.2 528.9 L427.9 527.5 L429.8 526.3 L431.8 525.1 L433.9 524.0 L436.0 523.1 L438.4 522.2 L441.0 521.3 L443.7 520.5 L446.1 519.8 L448.2 519.2 L449.8 518.8 L450.6 518.6 Z" fill="#FDBEBB"/>
</g>
<g filter="url(#blur1)" fill="none" stroke="#1c1c1c" stroke-width="2.6" stroke-linejoin="round" stroke-linecap="round">
<path d="M757.2 239.7 L758.8 240.4 L760.3 240.2 L761.9 240.4 L763.4 241.7 L765.0 242.3 L766.5 240.8 L768.0 240.2 L769.6 240.1 L771.1 240.2 L772.7 240.9 L774.2 241.0 L775.8 241.1 L777.4 241.0 L778.9 241.2 L780.4 242.0 L781.8 242.0 L783.3 243.1 L784.7 243.4 L786.2 243.6 L787.6 244.7 L789.1 244.9 L790.3 244.0 L791.6 242.7 L792.8 242.6 L794.0 241.6 L795.2 240.6 L796.5 239.6 L797.7 238.6 L799.2 238.8 L800.7 238.7 L802.3 238.7 L803.8 238.2 L805.3 238.4 L806.8 238.6 L808.3 239.0 L809.9 238.7 L811.4 238.4 L812.9 238.2 L814.4 239.2 L815.9 238.7 L817.4 239.2 L819.0 239.3 L820.5 239.0 L822.0 238.8 L823.5 239.4 L825.0 239.0 L826.6 239.3 L828.1 239.5 L829.6 239.0 L831.0 238.8 L832.5 238.0 L834.0 236.4 L835.4 236.5 L836.8 237.3 L838.3 238.3 L839.7 238.8 L841.2 239.2 L842.7 238.3 L844.2 240.3 L845.7 238.9 L847.2 239.2 L848.7 239.1 L850.2 239.2 L851.7 239.8 L853.2 239.4 L854.7 239.2 L856.2 239.6 L857.7 239.4 L859.2 239.8 L860.7 240.0 L862.2 238.2 L863.7 240.4 L865.2 240.1 L866.7 240.4 L868.2 240.3 L869.7 240.2 L871.2 239.8 L872.7 240.6 L874.2 240.3 L875.7 240.1 L877.2 240.0 L878.7 240.1 L880.2 240.4 L881.7 240.7 L883.2 240.6 L884.7 240.7 L886.3 241.0 L887.8 240.9 L889.3 240.8 L890.8 240.1 L892.3 240.1 L893.8 240.9 L895.3 240.5 L896.9 240.4 L898.4 240.0 L899.9 240.4 L901.4 240.1 L902.9 240.7 L904.4 240.1 L905.9 240.2 L907.4 240.3 L909.0 240.8 L910.5 240.4 L912.0 240.4 L913.5 239.9 L915.0 240.0 L916.5 240.1 L918.0 240.3 L919.6 240.1 L921.1 240.0 L922.6 240.6 L924.1 240.3 L925.6 240.5 L927.1 240.2 L928.6 240.7 L930.1 239.9 L931.7 240.3 L933.2 239.8 L934.7 240.3 L936.2 240.0 L937.7 240.2 L939.2 240.6 L940.7 239.7 L942.3 241.6 L943.8 240.5 L945.3 239.9 L946.8 240.0 L948.2 238.7 L949.7 238.3 L951.1 237.4 L952.7 237.2 L954.2 236.2 L955.8 236.1 L957.3 233.8 L958.9 236.0 L960.5 235.1 L962.0 234.9 L963.6 234.5 L965.2 234.4 L966.7 234.4 L968.3 234.3 L969.8 233.6 L971.4 233.0 L972.8 233.7 L974.3 235.1 L975.7 235.8 L977.2 236.3 L978.6 236.7 L979.3 235.2 L980.0 234.6 L980.8 233.3 L981.5 231.2 L982.2 230.5 L983.0 228.5 L983.7 227.4 L984.4 226.5 L985.5 226.4 L986.5 224.3 L987.6 222.9 L988.6 221.3 L989.7 220.4 L990.7 220.1 L991.8 218.3 L992.8 217.5 L993.9 216.2 L994.9 214.9 L996.0 213.7 L997.7 214.4 L999.4 214.2 L1001.2 213.8 L1002.9 213.0 L1004.6 212.8 L1005.8 212.3 L1007.1 210.8 L1008.3 210.5 L1009.6 209.3 L1010.8 208.3 L1012.1 207.2 L1013.3 205.9 L1014.5 207.4 L1015.6 208.1 L1016.8 209.2 L1017.9 210.4 L1019.1 211.6 L1020.3 212.9 L1021.4 213.4 L1022.6 215.0 L1023.7 216.0 L1024.9 217.3 L1026.0 218.2 L1027.1 219.0 L1028.2 220.4 L1029.2 221.9 L1030.3 222.7 L1031.4 223.2 L1032.5 225.1 L1033.6 226.1 L1034.8 226.7 L1035.9 228.2 L1037.0 229.1 L1038.2 230.1 L1039.3 231.4 L1040.5 232.1 L1041.6 232.8 L1042.8 234.2 L1043.9 234.7 L1045.1 236.4 L1046.8 235.9 L1048.4 235.8 L1050.1 235.7 L1051.7 235.0 L1053.4 235.0 L1055.0 233.9 L1056.7 234.2 L1058.2 234.4 L1059.8 234.9 L1061.3 234.7 L1062.9 235.0 L1064.4 235.2 L1066.0 236.1 L1067.5 235.6 L1069.1 236.2 L1070.6 236.3 L1072.2 235.2 L1073.7 234.9 L1075.3 237.1 L1076.8 237.8 L1078.4 238.1 L1079.9 238.5 L1080.5 240.0 L1081.1 241.2 L1081.6 243.0 L1082.2 244.1 L1082.8 245.3 L1083.9 244.7 L1085.0 243.6 L1086.0 242.7 L1087.1 241.6 L1088.2 240.1 L1089.2 238.8 L1090.3 237.7 L1091.4 236.3 L1093.0 236.7 L1094.6 236.7 L1096.1 237.0 L1097.7 236.9 L1099.3 238.5 L1100.9 237.0 L1102.5 237.0 L1104.1 237.2 L1105.6 236.8 L1107.2 237.0 L1108.8 237.0 L1110.3 237.0 L1111.9 236.8 L1113.4 236.8 L1114.9 236.6 L1116.4 237.2 L1118.0 237.2 L1119.5 237.2 L1121.0 237.1 L1122.5 236.2 L1124.1 236.3 L1125.6 236.5 L1127.1 236.3 L1128.6 239.1 L1130.2 236.5 L1131.7 236.4 L1133.2 236.3 L1134.7 236.6 L1136.3 236.1 L1137.8 236.1 L1139.3 236.4 L1140.8 236.7 L1142.4 236.1 L1143.9 236.2 L1145.4 236.5 L1146.9 236.3 L1148.5 236.6 L1150.0 236.6 L1151.5 236.2 L1153.0 235.7 L1154.5 236.2 L1156.0 235.3 L1157.5 235.1 L1159.0 235.0 L1160.5 234.9 L1162.0 234.3 L1163.5 234.1 L1165.0 234.5 L1166.5 233.8 L1168.0 234.1 L1169.5 233.2 L1171.0 233.4 L1171.6 231.9 L1172.3 230.9 L1172.9 229.5 L1173.5 227.4 L1174.2 226.7 L1174.8 224.8 L1175.4 223.2 L1176.0 222.4 L1176.7 220.6 L1177.3 219.9 L1177.9 217.7 L1178.6 216.3 L1179.2 215.6 L1180.5 214.8 L1181.9 214.4 L1183.2 213.5 L1184.6 212.8 L1186.0 211.7 L1187.3 211.3 L1188.7 211.1 L1190.0 209.8 L1191.4 209.2 L1192.7 208.4 L1194.1 207.6 L1195.4 204.6 L1196.8 207.7 L1198.3 208.4 L1199.7 208.8 L1201.1 209.7 L1202.6 208.0 L1204.0 210.5 L1205.4 210.8 L1206.9 211.7 L1208.3 211.6 L1209.9 212.1 L1211.6 212.5 L1213.2 212.0 L1214.8 212.1 L1216.4 211.9 L1218.1 211.8 L1219.7 211.9 L1221.3 211.9 L1222.9 211.8 L1224.6 212.4 L1226.2 212.0 L1227.6 212.9 L1228.9 213.8 L1230.3 214.0 L1231.7 214.6 L1233.0 214.8 L1234.4 215.9 L1235.8 216.0 L1237.2 216.7 L1238.5 217.4 L1239.9 217.9 L1241.3 219.4 L1242.6 219.6 L1244.0 220.0 L1244.4 221.2 L1244.9 223.5 L1245.3 225.0 L1245.7 226.3 L1246.2 227.3 L1246.6 228.8 L1247.1 230.1 L1247.5 232.2 L1247.9 233.3 L1248.4 235.1 L1248.8 236.7 L1250.3 236.1 L1251.8 236.4 L1253.3 236.8 L1254.8 236.0 L1256.3 236.4 L1257.8 236.7 L1259.3 238.6 L1260.8 236.1 L1262.3 236.2 L1263.8 236.0 L1265.3 236.2 L1266.8 236.4 L1268.3 236.2 L1269.7 235.6 L1271.0 233.8 L1272.3 233.0 L1273.7 232.4 L1275.1 231.0 L1276.4 230.0 L1278.0 230.4 L1279.6 230.7 L1281.2 230.5 L1282.9 230.1 L1284.5 231.0 L1286.1 230.5 L1287.7 230.8 L1289.3 231.4 L1291.0 231.0 L1292.6 231.2 L1294.2 231.0 L1295.8 231.3 L1297.3 231.0 L1298.9 231.7 L1300.4 231.4 L1301.9 231.1 L1303.5 230.4 L1305.0 230.6 L1306.6 230.7 L1308.1 229.9 L1309.6 230.0 L1311.2 230.0 L1312.7 229.7 L1314.2 229.2 L1315.8 229.3 L1317.3 228.9 L1318.9 228.9 L1320.4 228.5 L1321.9 228.2 L1323.5 228.9 L1325.0 227.8 L1326.5 228.2 L1328.1 227.9 L1329.6 228.3 L1331.1 228.2 L1332.6 230.9 L1334.2 228.4 L1335.7 228.6 L1337.2 228.8 L1338.8 228.6 L1340.3 228.8 L1341.8 228.2 L1343.4 228.7 L1344.9 228.4 L1346.4 228.3 L1347.9 228.2 L1349.5 228.6 L1351.0 230.2 L1351.7 226.9 L1352.4 225.3 L1353.1 224.4 L1353.8 223.0 L1354.6 221.5 L1355.3 219.7 L1356.0 218.1 L1356.7 216.8 L1357.4 215.4 L1358.9 214.8 L1360.4 213.9 L1361.9 213.7 L1363.4 213.5 L1364.9 213.4 L1366.4 212.4 L1367.9 212.1 L1369.4 211.7 L1370.9 211.1 L1372.4 210.9 L1373.9 209.5 L1375.4 209.9 L1376.9 208.4 L1378.1 207.9 L1379.3 206.9 L1380.5 206.4 L1381.7 205.2 L1382.9 204.2 L1384.2 203.0 L1385.4 202.7 L1386.6 201.4 L1387.8 200.5 L1389.0 199.2 L1390.2 198.4 L1391.4 197.9 L1392.8 198.3 L1394.2 198.6 L1395.7 199.1 L1397.1 200.4 L1398.5 200.9 L1400.0 201.1 L1401.4 201.5 L1402.8 202.3 L1404.3 203.2 L1405.8 203.0 L1407.3 203.4 L1408.9 204.0 L1410.4 206.4 L1411.9 204.8 L1413.4 204.7 L1414.9 205.3 L1416.4 205.1 L1417.9 205.9 L1419.4 205.6 L1421.0 206.4 L1422.5 207.1 L1424.0 207.1 L1425.5 207.2 L1426.7 208.4 L1428.0 208.8 L1429.2 209.9 L1430.5 210.9 L1431.7 212.0 L1433.0 212.6 L1434.2 213.2 L1435.5 214.4 L1436.7 215.5 L1438.0 216.0 L1439.2 216.5 L1440.5 217.5 L1441.7 218.6 L1442.4 220.0 L1443.2 221.1 L1443.9 222.8 L1444.7 221.7 L1445.4 225.8 L1446.2 227.1 L1446.9 228.3 L1447.7 229.3 L1448.4 230.8 L1449.2 232.1 L1449.9 234.1 L1450.7 235.1 L1451.4 236.0 L1452.9 236.2 L1454.4 236.4 L1455.9 236.0 L1457.4 236.3 L1458.9 236.6 L1460.4 238.7 L1461.9 236.0 L1463.5 236.7 L1465.0 236.0 L1466.5 236.2 L1468.0 236.5 L1469.5 236.4 L1471.0 236.8 L1472.5 236.1 L1474.0 236.0 L1475.3 236.8 L1476.6 238.5 L1478.0 238.4 L1479.3 240.2 L1480.6 240.2 L1482.0 240.3 L1483.5 240.1 L1484.9 239.2 L1486.4 238.6 L1487.8 238.2 L1489.2 237.2 L1490.7 237.2 L1492.1 236.9 L1493.5 236.4 L1495.0 235.5 L1496.4 234.8 L1497.9 234.9 L1499.3 234.6 L1500.7 233.4 L1502.2 233.2 L1503.6 230.9 L1505.1 232.2 L1506.5 231.6 L1508.1 231.7 L1509.7 232.1 L1511.3 231.9 L1513.0 229.5 L1514.6 232.2 L1516.2 231.9 L1517.8 232.0 L1519.4 232.1 L1521.1 231.9 L1522.7 232.3 L1524.3 232.3 L1525.9 232.7 L1527.2 232.7 L1528.5 234.2 L1529.8 235.2 L1531.1 236.0 L1532.4 237.2 L1533.7 237.6 L1535.0 238.8 L1536.3 239.8 L1537.6 240.5 L1538.9 241.1 L1540.5 241.2 L1542.1 241.2 L1543.8 241.2 L1545.4 240.8 L1547.0 240.3 L1548.6 241.0 L1550.2 240.1 L1551.8 240.7 L1553.5 239.8 L1555.1 240.2 L1556.7 240.0 L1558.3 240.1 L1559.8 239.4 L1561.4 239.3 L1562.9 240.1 L1564.4 238.4 L1565.9 238.4 L1567.5 238.7 L1569.0 238.1 L1570.5 238.6 L1572.1 240.7 L1573.6 238.0 L1575.1 237.3 L1576.7 237.9 L1578.2 236.9 L1579.7 236.6 L1581.2 237.0 L1582.8 236.6 L1584.3 236.1 L1585.8 235.6 L1587.3 235.4 L1588.8 235.4 L1590.3 235.0 L1591.8 235.2 L1593.3 234.2 L1594.8 234.1 L1596.3 233.2 L1597.8 233.6 L1599.3 233.0 L1600.8 232.1 L1602.3 232.3 L1603.8 231.6 L1605.3 231.6"/><path d="M775.3 367.5 L776.3 366.1 L777.3 367.6 L778.3 367.5 L779.3 367.5 L780.3 367.6 L781.3 367.5 L782.3 368.2 L783.3 368.7 L784.3 368.0 L785.3 370.3 L786.3 369.1 L787.3 369.2 L788.3 368.1 L789.3 368.2 L790.3 369.0 L791.3 369.1 L792.3 370.1 L793.3 369.2 L794.3 370.5 L795.3 370.3 L796.3 371.1 L797.3 371.6 L798.3 371.6 L799.3 371.1 L800.2 371.9 L801.2 372.8 L802.2 372.5 L803.2 372.7 L804.2 373.4 L805.2 374.0 L806.2 374.6 L807.2 375.1 L808.0 374.3 L808.9 372.9 L809.7 373.3 L810.6 372.2 L811.4 371.5 L812.2 371.1 L813.1 370.9 L813.9 370.5 L814.8 368.6 L815.6 369.8 L816.6 366.4 L817.6 369.5 L818.6 368.0 L819.6 369.2 L820.6 367.8 L821.6 370.7 L822.6 368.7 L823.6 367.1 L824.6 367.6 L825.6 368.6 L826.6 367.3 L827.6 368.6 L828.6 366.9 L829.6 367.9 L830.6 368.0 L831.6 367.0 L832.6 367.6 L833.6 367.1 L834.6 366.9 L835.6 365.9 L836.6 368.0 L837.6 367.1 L838.6 367.0 L839.6 368.1 L840.6 367.6 L841.4 368.2 L842.3 368.0 L843.1 369.3 L843.9 370.8 L844.8 370.0 L845.6 371.9 L846.4 371.5 L847.2 373.5 L848.1 373.4 L848.9 374.0 L849.6 373.0 L850.3 372.3 L851.0 371.4 L851.7 370.5 L852.4 372.1 L853.1 370.0 L853.8 369.5 L854.4 367.9 L855.1 364.7 L855.8 367.7 L856.5 366.9 L857.2 362.9 L857.9 364.3 L858.6 365.3 L859.6 364.0 L860.5 366.7 L861.5 365.6 L862.4 366.5 L863.4 368.3 L864.4 366.0 L865.3 366.6 L866.3 367.5 L867.3 368.6 L868.2 367.9 L869.2 368.3 L870.1 369.8 L871.1 373.0 L872.1 370.6 L873.1 370.1 L874.1 371.1 L875.1 370.8 L876.1 371.7 L877.1 371.8 L878.0 370.9 L879.0 371.4 L880.0 371.5 L881.0 372.5 L882.0 372.5 L883.0 371.9 L884.0 371.7 L885.0 371.7 L886.0 373.4 L887.0 373.1 L888.0 372.7 L889.0 373.5 L890.0 373.3 L891.0 372.9 L892.0 374.6 L892.9 373.2 L893.9 374.5 L894.9 375.0 L895.9 374.8 L896.9 375.5 L897.9 375.0 L898.9 377.7 L899.9 374.2 L900.9 374.5 L901.8 374.6 L902.8 374.4 L903.8 374.6 L904.8 374.0 L905.8 373.7 L906.8 372.5 L907.7 372.6 L908.7 373.4 L909.7 371.4 L910.7 372.4 L911.7 372.1 L912.7 370.7 L913.6 371.7 L914.6 371.8 L915.6 370.1 L916.6 371.3 L917.6 371.2 L918.6 370.2 L919.6 370.1 L920.6 370.7 L921.7 370.9 L922.7 370.3 L923.7 372.3 L924.7 371.1 L925.7 371.0 L926.7 371.6 L927.7 371.5 L928.7 371.7 L929.7 370.5 L930.7 371.6 L931.7 370.4 L932.8 371.4 L933.8 370.0 L934.8 371.7 L935.8 370.2 L936.8 368.4 L937.8 370.6 L938.5 372.3 L939.2 372.7 L939.9 373.3 L940.6 373.2 L941.3 374.4 L942.0 376.1 L942.8 374.8 L943.7 373.6 L944.5 373.5 L945.3 373.7 L946.1 372.7 L947.0 371.3 L947.8 370.7 L948.6 371.4 L949.4 370.5 L950.3 369.0 L951.1 367.9 L951.9 367.4 L952.7 367.0 L953.6 367.5 L954.4 366.4 L955.4 365.5 L956.4 365.1 L957.5 365.7 L958.5 364.8 L959.5 364.3 L960.5 364.8 L961.5 364.9 L962.5 364.7 L963.6 363.8 L964.6 364.4 L965.6 363.8 L966.6 364.3 L967.6 364.6 L968.6 364.1 L969.5 363.9 L970.5 363.7 L971.5 364.2 L972.5 365.4 L973.5 365.7 L974.5 364.3 L975.5 365.0 L976.4 366.2 L977.4 365.6 L978.4 365.4 L979.4 365.9 L980.0 367.2 L980.5 367.5 L981.1 368.0 L981.6 369.0 L982.2 370.3 L982.8 371.0 L983.3 371.7 L983.9 372.7 L984.4 374.3 L985.0 374.1 L985.6 375.4 L986.1 375.8 L986.7 377.9 L987.2 378.6 L987.8 378.8 L988.4 379.7 L988.9 380.9 L989.5 382.2 L990.0 382.6 L990.6 384.2 L991.4 384.5 L992.3 384.4 L993.1 384.3 L993.9 386.6 L994.8 387.1 L995.6 387.7 L996.4 387.2 L997.2 387.3 L998.1 388.5 L998.9 388.8 L999.9 388.6 L1000.9 391.3 L1001.9 389.1 L1002.9 388.3 L1003.9 388.1 L1005.0 389.6 L1006.0 388.7 L1007.0 389.3 L1008.0 388.5 L1009.0 387.7 L1010.0 385.3 L1010.9 387.4 L1011.7 386.9 L1012.6 386.6 L1013.4 386.2 L1014.3 385.9 L1015.1 385.6 L1016.0 383.6 L1016.8 382.9 L1017.7 382.6 L1018.5 381.7 L1019.4 381.4 L1020.2 381.2 L1021.1 380.5 L1021.6 379.8 L1022.0 378.9 L1022.5 377.3 L1023.0 376.1 L1023.4 375.1 L1023.9 375.4 L1024.4 374.5 L1024.8 372.7 L1025.3 371.9 L1025.8 372.2 L1026.3 370.8 L1026.7 370.0 L1027.2 368.9 L1027.7 367.9 L1028.1 366.1 L1028.6 366.4 L1029.1 364.9 L1029.5 364.6 L1030.0 362.2 L1031.1 363.7 L1032.2 363.4 L1033.3 362.1 L1034.5 362.6 L1035.6 363.2 L1036.7 363.7 L1037.8 362.3 L1038.9 363.8 L1039.9 364.1 L1041.0 363.5 L1042.1 363.6 L1043.1 364.0 L1044.2 363.4 L1045.3 363.5 L1046.4 363.8 L1047.4 364.2 L1048.5 363.4 L1049.6 364.8 L1050.6 364.9 L1051.7 366.5 L1052.8 364.5 L1053.8 364.8 L1054.9 363.8 L1056.0 365.0 L1057.1 365.0 L1058.3 364.5 L1059.4 365.7 L1060.5 365.5 L1061.7 365.1 L1062.8 366.6 L1063.5 365.5 L1064.2 365.3 L1064.9 364.1 L1065.6 362.8 L1066.3 362.2 L1067.0 361.9 L1067.7 360.5 L1068.3 360.9 L1069.0 360.0 L1069.7 358.6 L1070.4 358.7 L1071.1 354.3 L1071.8 359.1 L1072.5 355.5 L1073.2 354.2 L1073.9 354.2 L1074.8 354.9 L1075.6 355.7 L1076.5 354.9 L1077.4 355.6 L1078.2 356.5 L1079.1 357.5 L1080.0 358.6 L1080.8 358.5 L1081.7 359.2 L1082.6 358.7 L1083.5 360.2 L1084.3 361.2 L1085.2 360.7 L1086.1 361.7 L1086.9 362.5 L1087.8 363.3 L1088.3 363.9 L1088.8 364.3 L1089.3 364.3 L1089.8 363.8 L1090.3 365.9 L1090.8 368.1 L1091.3 368.5 L1091.8 372.1 L1092.3 369.9 L1092.8 370.2 L1093.3 372.9 L1093.6 371.0 L1093.9 369.3 L1094.1 368.3 L1094.4 369.7 L1094.7 368.2 L1095.0 365.7 L1095.3 366.6 L1095.5 364.3 L1095.8 362.6 L1096.1 360.0 L1096.4 361.4 L1096.7 361.6 L1096.9 359.9 L1097.2 358.8 L1097.5 353.3 L1097.8 357.0 L1098.1 354.7 L1098.3 354.6 L1098.6 347.4 L1098.9 359.1 L1099.9 350.9 L1100.9 356.5 L1101.9 353.6 L1102.9 354.2 L1103.9 353.5 L1105.0 352.9 L1106.0 354.6 L1107.0 352.5 L1108.0 354.4 L1109.0 353.4 L1110.0 351.3 L1111.0 353.3 L1112.0 354.7 L1113.0 352.4 L1114.0 353.9 L1115.0 352.3 L1116.1 348.0 L1117.1 352.8 L1118.1 354.0 L1119.1 354.4 L1120.1 352.4 L1121.1 353.9 L1122.1 353.6 L1123.1 356.0 L1124.1 351.3 L1125.1 352.7 L1126.1 353.2 L1127.1 355.4 L1128.0 353.9 L1129.0 349.6 L1130.0 353.5 L1131.0 352.8 L1132.0 352.4 L1133.0 355.2 L1134.0 352.7 L1135.0 360.0 L1136.0 354.2 L1137.0 355.4 L1138.0 350.4 L1139.0 354.4 L1140.0 352.9 L1141.0 356.3 L1142.0 354.7 L1142.9 351.1 L1143.9 354.8 L1144.9 356.2 L1145.9 349.6 L1146.9 357.1 L1147.9 352.3 L1148.9 355.2 L1149.9 360.5 L1150.9 355.0 L1151.9 359.8 L1152.9 355.4 L1153.9 355.6 L1155.0 358.4 L1156.0 353.1 L1157.0 357.1 L1158.0 358.5 L1159.0 356.1 L1160.0 357.1 L1161.0 355.2 L1162.0 355.6 L1163.0 358.6 L1164.0 357.7 L1165.0 355.1 L1166.1 358.3 L1167.1 356.1 L1168.1 352.2 L1169.1 350.9 L1170.1 358.6 L1171.1 358.7 L1172.1 356.3 L1173.1 352.6 L1174.1 350.7 L1175.1 363.9 L1176.1 357.6 L1177.2 350.2 L1178.2 355.4 L1179.2 358.5 L1180.2 363.6 L1181.2 357.6 L1182.2 355.4 L1182.7 356.7 L1183.1 359.5 L1183.6 361.1 L1184.1 361.1 L1184.5 364.8 L1185.0 362.5 L1185.5 364.7 L1185.9 363.2 L1186.4 364.1 L1186.9 365.1 L1187.3 367.8 L1187.8 368.4 L1188.2 367.8 L1188.7 370.1 L1189.2 369.9 L1189.6 374.5 L1190.1 371.9 L1190.6 374.1 L1191.0 371.2 L1191.5 375.6 L1192.0 375.6 L1192.4 376.8 L1192.9 377.1 L1193.4 380.4 L1193.8 379.1 L1194.3 379.8 L1194.9 383.6 L1195.4 383.5 L1196.0 384.4 L1196.5 383.8 L1197.1 384.5 L1197.7 385.3 L1198.2 387.0 L1198.8 387.2 L1199.4 388.6 L1199.9 390.3 L1200.5 389.3 L1201.0 390.5 L1201.6 392.1 L1202.0 388.0 L1202.4 389.7 L1202.8 389.7 L1203.2 389.0 L1203.6 387.1 L1204.0 387.4 L1204.5 383.8 L1204.9 383.1 L1205.3 383.0 L1205.7 381.7 L1206.1 382.1 L1206.5 379.9 L1206.8 379.8 L1207.0 381.1 L1207.2 383.2 L1207.5 382.7 L1207.8 385.9 L1208.0 385.2 L1208.2 386.4 L1208.5 387.3 L1208.8 388.4 L1209.0 390.4 L1209.2 390.3 L1209.5 393.7 L1209.8 396.4 L1210.0 393.9 L1210.8 395.2 L1211.7 393.1 L1212.5 391.2 L1213.3 393.4 L1214.2 391.9 L1215.0 389.4 L1215.4 389.6 L1215.7 388.6 L1216.1 386.9 L1216.5 386.4 L1216.8 385.1 L1217.2 384.9 L1217.6 385.6 L1218.0 381.9 L1218.3 383.8 L1218.7 382.2 L1219.1 381.8 L1219.4 379.9 L1219.8 375.4 L1220.3 377.8 L1220.8 377.8 L1221.3 374.8 L1221.7 373.8 L1222.2 372.6 L1222.7 372.5 L1223.2 373.4 L1223.7 366.6 L1224.2 371.6 L1224.7 371.8 L1225.1 365.5 L1225.6 366.7 L1226.1 365.3 L1226.6 366.1 L1227.1 364.3 L1227.6 365.2 L1228.0 362.0 L1228.5 361.5 L1229.0 361.3 L1229.5 359.5 L1229.6 358.1 L1229.7 358.5 L1229.8 356.6 L1230.0 357.5 L1230.1 353.7 L1230.2 352.8 L1230.3 353.4 L1230.4 351.4 L1230.5 351.1 L1230.7 349.5 L1230.8 347.4 L1230.9 348.0 L1231.0 346.9 L1231.5 347.3 L1232.0 348.3 L1232.5 348.4 L1232.9 350.6 L1233.4 350.3 L1233.9 354.8 L1234.4 350.2 L1235.4 356.3 L1236.4 353.3 L1237.3 350.2 L1238.3 351.9 L1239.3 351.7 L1240.2 350.3 L1241.2 346.0 L1242.2 350.0 L1243.2 351.0 L1244.2 350.1 L1245.1 351.4 L1246.1 349.7 L1247.1 348.9 L1248.0 344.2 L1249.0 350.5 L1250.0 348.0 L1251.0 347.7 L1252.0 348.0 L1253.0 348.9 L1253.9 348.6 L1254.9 346.6 L1255.9 348.7 L1256.9 342.8 L1257.8 347.2 L1258.6 347.3 L1259.5 348.5 L1260.3 349.6 L1261.2 350.6 L1262.1 350.1 L1262.9 351.3 L1263.8 352.4 L1264.6 351.7 L1265.5 356.4 L1266.4 352.9 L1267.2 354.8 L1268.1 353.4 L1269.0 355.6 L1269.8 356.3 L1270.7 351.6 L1271.5 356.1 L1272.4 355.0 L1273.3 356.6 L1274.1 359.1 L1275.0 363.7 L1275.8 359.5 L1276.7 361.0 L1277.6 359.0 L1278.6 359.6 L1279.5 357.0 L1280.5 360.2 L1281.4 361.4 L1282.4 362.9 L1283.3 360.7 L1284.3 362.4 L1285.2 362.7 L1286.2 361.9 L1287.1 361.3 L1288.1 364.9 L1289.0 365.0 L1290.0 363.0 L1290.9 363.4 L1291.9 364.4 L1292.8 364.9 L1293.8 363.3 L1294.7 367.2 L1295.7 365.9 L1296.6 367.7 L1297.3 364.6 L1298.0 363.7 L1298.7 360.4 L1299.4 363.2 L1300.1 362.7 L1300.8 361.1 L1301.5 360.5 L1302.2 360.6 L1302.9 360.1 L1303.6 357.1 L1304.3 358.3 L1305.0 358.0 L1306.0 356.5 L1307.1 357.6 L1308.1 357.1 L1309.1 352.0 L1310.2 355.7 L1311.2 356.9 L1312.2 356.0 L1313.3 360.7 L1314.3 355.1 L1315.3 356.4 L1316.3 355.3 L1317.4 356.0 L1318.4 355.3 L1319.4 355.2 L1320.5 354.6 L1321.5 354.4 L1322.5 358.0 L1323.6 355.5 L1324.6 355.0 L1325.6 354.5 L1326.7 355.2 L1327.7 353.9 L1328.7 354.8 L1329.8 353.7 L1330.8 350.1 L1331.9 349.5 L1332.9 354.7 L1334.0 353.2 L1335.0 354.8 L1336.1 353.6 L1337.1 353.2 L1338.2 349.5 L1339.2 357.5 L1340.3 351.3 L1341.3 354.3 L1342.4 352.9 L1343.4 357.8 L1344.5 353.5 L1345.5 355.2 L1346.6 354.3 L1347.6 353.8 L1348.6 353.9 L1349.6 353.2 L1350.6 353.9 L1351.7 351.9 L1352.7 353.5 L1353.7 350.8 L1354.7 352.9 L1355.7 351.7 L1356.7 346.6 L1357.7 350.0 L1358.8 350.7 L1359.8 351.0 L1360.8 348.9 L1361.8 349.6 L1362.7 346.3 L1363.5 350.8 L1364.4 351.7 L1365.3 351.4 L1366.1 356.3 L1367.0 352.7 L1367.9 352.8 L1368.8 353.8 L1369.6 355.7 L1370.5 354.9 L1371.4 360.0 L1372.2 356.8 L1373.1 357.8 L1374.1 356.7 L1375.1 356.3 L1376.1 356.4 L1377.2 355.0 L1378.2 354.5 L1379.2 353.6 L1380.2 355.3 L1381.2 354.3 L1382.2 355.8 L1383.2 352.8 L1384.3 352.9 L1385.3 352.1 L1386.3 351.4 L1387.3 353.3 L1387.8 354.5 L1388.4 354.9 L1388.9 351.4 L1389.5 358.0 L1390.0 360.9 L1390.6 357.9 L1391.1 358.6 L1391.7 358.3 L1392.2 359.2 L1392.8 360.4 L1393.3 362.0 L1393.9 364.1 L1394.4 364.2 L1394.9 362.0 L1395.5 365.1 L1396.0 366.0 L1396.6 367.2 L1397.1 370.9 L1397.7 369.9 L1398.2 370.8 L1398.8 370.2 L1399.3 372.0 L1399.9 371.7 L1400.4 373.4 L1401.0 374.8 L1401.5 374.5 L1402.3 376.2 L1403.1 376.8 L1403.9 377.6 L1404.7 378.4 L1405.5 378.6 L1406.3 379.6 L1407.2 379.7 L1408.0 380.3 L1408.8 381.8 L1409.6 381.1 L1410.4 381.8 L1411.2 382.2 L1412.0 383.5 L1412.8 383.7 L1413.6 386.5 L1414.3 382.3 L1415.1 382.7 L1415.8 380.9 L1416.6 380.3 L1417.4 380.6 L1418.1 379.4 L1418.9 379.0 L1419.7 378.9 L1420.4 376.9 L1421.2 376.1 L1421.9 376.5 L1422.7 374.4 L1423.1 373.9 L1423.4 374.0 L1423.8 372.4 L1424.1 370.5 L1424.5 369.5 L1424.8 368.9 L1425.2 368.7 L1425.6 367.3 L1425.9 366.6 L1426.3 367.6 L1426.6 364.1 L1427.0 363.4 L1427.3 362.7 L1427.7 362.3 L1428.0 360.2 L1428.4 358.7 L1429.4 359.5 L1430.5 358.9 L1431.5 359.2 L1432.5 359.6 L1433.6 359.6 L1434.6 359.3 L1435.6 359.3 L1436.7 360.1 L1437.7 359.2 L1438.7 359.8 L1439.8 359.3 L1440.8 359.5 L1441.8 360.2 L1442.9 361.0 L1443.9 360.9 L1445.0 360.9 L1446.0 361.0 L1447.0 361.4 L1448.1 359.9 L1449.1 360.3 L1450.1 360.2 L1451.2 360.8 L1452.2 361.2 L1453.2 360.6 L1454.3 361.0 L1455.3 361.2 L1456.2 361.6 L1457.2 361.5 L1458.1 364.4 L1459.1 362.7 L1460.0 364.3 L1461.0 363.6 L1461.9 365.2 L1462.9 364.0 L1463.8 364.5 L1464.8 365.6 L1465.7 364.8 L1466.7 364.5 L1467.6 363.2 L1468.5 363.7 L1469.5 364.8 L1470.5 361.1 L1471.4 360.6 L1472.3 358.5 L1473.3 360.6 L1474.2 360.6 L1475.2 360.1 L1476.1 360.1 L1477.0 360.0 L1477.9 360.9 L1478.8 362.7 L1479.7 363.3 L1480.6 362.1 L1481.5 363.1 L1482.4 362.9 L1483.3 363.4 L1484.1 363.3 L1485.0 364.7 L1485.9 364.9 L1486.8 365.3 L1487.7 366.0 L1488.6 366.0 L1489.5 367.2 L1490.4 367.7 L1491.3 367.0 L1492.2 368.2 L1493.1 367.1 L1493.9 367.0 L1494.8 366.3 L1495.7 365.5 L1496.5 366.0 L1497.4 364.5 L1498.3 364.4 L1499.2 363.9 L1500.0 363.5 L1500.9 362.0 L1501.8 362.2 L1502.6 362.2 L1503.5 360.3 L1504.5 361.1 L1505.5 361.3 L1506.5 361.3 L1507.6 361.5 L1508.6 361.7 L1509.6 361.2 L1510.6 360.8 L1511.6 361.5 L1512.6 361.4 L1513.6 363.2 L1514.7 362.0 L1515.7 362.4 L1516.7 362.5 L1517.7 362.2 L1518.7 362.5 L1519.7 361.2 L1520.7 361.3 L1521.8 362.6 L1522.8 362.5 L1523.8 360.4 L1524.8 362.7 L1525.8 362.7 L1526.8 365.5 L1527.8 363.0 L1528.9 362.7 L1529.9 361.9 L1530.9 362.6 L1531.9 362.5 L1532.8 362.8 L1533.8 361.2 L1534.7 361.5 L1535.7 361.6 L1536.6 360.6 L1537.6 360.0 L1538.5 360.1 L1539.5 359.9 L1540.4 358.8 L1541.4 358.9 L1542.3 358.0 L1543.2 358.6 L1544.2 358.5 L1545.1 357.6 L1546.1 354.1 L1547.0 356.8 L1548.0 355.7 L1548.9 355.9 L1549.9 355.5 L1550.8 354.9 L1551.8 354.9 L1552.7 354.6 L1553.7 354.4 L1554.6 353.3 L1555.4 355.1 L1556.3 356.0 L1557.1 355.5 L1557.9 357.2 L1558.7 356.2 L1559.6 356.9 L1560.4 358.6 L1561.2 358.8 L1562.1 359.2 L1562.9 359.4 L1563.7 361.2 L1564.6 360.4 L1565.4 362.0 L1566.2 361.7 L1567.0 363.3 L1567.9 365.6 L1568.7 363.5 L1569.7 363.9 L1570.7 364.2 L1571.7 363.4 L1572.7 363.5 L1573.7 362.3 L1574.7 362.4 L1575.7 362.6 L1576.7 362.0 L1577.7 362.0 L1578.7 360.5 L1579.6 360.9 L1580.6 359.6 L1581.6 356.9 L1582.6 361.6 L1583.6 359.6 L1584.6 358.8 L1585.6 359.5 L1586.6 360.8 L1587.6 358.4 L1588.6 358.7 L1589.6 358.8 L1590.7 358.3 L1591.7 357.8 L1592.7 358.3 L1593.8 359.1 L1594.8 358.4 L1595.8 357.8 L1596.9 358.7 L1597.9 358.1 L1598.9 358.0 L1599.9 358.0 L1601.0 359.8 L1602.0 358.6 L1603.0 358.2 L1604.1 359.2 L1605.1 359.2 L1606.1 359.2 L1607.2 358.5 L1608.2 360.0 L1609.2 360.3 L1610.3 360.4 L1611.3 359.3 L1612.2 358.4 L1613.0 359.1 L1613.9 358.4 L1614.8 358.1 L1615.6 356.6 L1616.5 357.1 L1617.4 355.4 L1618.3 354.8 L1619.1 354.1 L1620.0 354.7 L1620.9 354.5 L1621.7 352.7 L1622.6 352.9 L1623.6 353.9 L1624.7 353.7 L1625.7 352.8 L1626.7 352.8 L1627.8 352.2 L1628.8 352.6 L1629.9 352.4 L1630.9 351.1 L1631.9 351.1 L1633.0 350.9 L1634.0 351.1"/><path d="M780.4 492.4 L781.9 492.9 L783.4 489.8 L784.9 493.5 L786.4 493.2 L787.9 494.1 L789.4 494.0 L790.8 493.9 L792.3 495.5 L793.8 493.9 L795.3 494.4 L796.8 494.4 L798.3 496.2 L799.8 496.0 L801.3 495.8 L802.6 496.8 L803.9 498.0 L805.2 498.0 L806.5 498.7 L807.8 500.1 L809.1 502.0 L810.4 502.2 L811.7 503.4 L812.6 501.8 L813.4 500.4 L814.3 498.5 L815.2 498.3 L816.0 497.2 L816.9 495.6 L817.8 493.4 L818.6 493.2 L819.5 491.1 L820.4 490.3 L821.2 489.0 L822.1 486.8 L823.6 486.5 L825.1 487.1 L826.7 487.3 L828.2 486.7 L829.7 486.8 L831.2 486.1 L832.7 482.2 L834.2 485.2 L835.8 485.8 L837.3 487.7 L838.8 486.5 L840.4 485.7 L842.0 486.4 L843.6 486.9 L845.2 487.3 L846.9 487.4 L848.5 488.2 L850.1 487.7 L851.7 488.5 L853.3 487.8 L854.9 487.1 L856.5 489.5 L858.2 489.8 L859.8 490.1 L861.4 485.0 L863.0 489.6 L864.7 490.5 L866.3 490.3 L867.9 490.5 L869.3 491.2 L870.7 490.3 L872.1 492.7 L873.5 493.5 L874.8 494.7 L876.2 494.9 L877.6 496.1 L879.0 497.2 L880.4 497.4 L881.7 497.4 L882.9 495.9 L884.2 494.2 L885.4 493.3 L886.7 493.6 L888.2 492.6 L889.8 493.4 L891.3 492.9 L892.8 492.9 L894.4 493.0 L895.9 493.4 L897.4 493.5 L899.0 496.2 L900.5 494.9 L902.0 493.1 L903.5 494.6 L905.1 495.2 L906.6 495.1 L908.1 495.2 L909.7 493.8 L911.2 493.7 L912.7 494.8 L914.3 495.7 L915.8 494.1 L917.4 494.3 L919.0 496.7 L920.6 496.1 L922.2 494.6 L923.8 495.5 L925.4 494.6 L927.1 494.8 L928.7 494.9 L930.3 495.2 L931.9 495.0 L933.5 495.8 L935.1 495.7 L936.7 495.5 L938.2 499.1 L939.7 492.0 L941.2 493.8 L942.6 493.3 L944.1 493.8 L945.6 496.0 L947.1 493.1 L948.6 491.8 L950.1 491.3 L951.6 492.0 L953.0 490.3 L954.5 490.4 L956.0 490.8 L957.5 490.4 L959.0 489.9 L960.5 490.2 L962.0 490.3 L963.4 490.6 L964.9 491.0 L966.4 490.3 L967.9 491.2 L969.4 492.4 L970.9 492.6 L972.4 491.5 L973.8 491.5 L975.3 492.8 L976.8 493.3 L978.3 493.4 L979.9 492.6 L981.4 493.0 L983.0 491.9 L984.5 495.3 L986.1 496.2 L987.7 493.4 L989.2 497.2 L990.8 497.3 L992.2 495.6 L993.7 496.0 L995.1 494.6 L996.6 499.5 L998.0 490.4 L999.5 493.6 L1000.9 494.1 L1002.4 492.8 L1003.8 492.2 L1005.3 491.2 L1006.7 491.8 L1008.2 491.3 L1009.6 489.9 L1011.2 490.8 L1012.8 489.4 L1014.4 491.1 L1016.0 490.4 L1017.6 491.0 L1019.2 490.9 L1020.8 490.2 L1022.4 490.4 L1024.0 492.1 L1025.6 491.5 L1027.2 491.9 L1028.8 491.9 L1030.4 492.9 L1031.9 491.3 L1033.4 492.1 L1035.0 491.5 L1036.5 491.1 L1038.0 490.8 L1039.5 491.2 L1041.0 490.7 L1042.5 487.0 L1044.1 490.0 L1045.6 490.9 L1047.1 489.3 L1048.7 490.3 L1050.2 490.8 L1051.8 489.5 L1053.3 489.6 L1054.9 490.5 L1056.5 491.0 L1058.0 491.0 L1059.6 490.1 L1061.2 489.5 L1062.7 491.1 L1064.3 490.2 L1065.8 493.6 L1067.4 493.2 L1069.0 490.8 L1070.5 490.3 L1072.1 490.0 L1073.7 491.7 L1075.3 491.9 L1076.9 491.6 L1078.5 490.7 L1080.1 491.5 L1081.7 490.8 L1083.3 492.3 L1084.9 491.5 L1086.5 491.5 L1088.1 492.1 L1089.7 491.9 L1091.3 492.1 L1092.9 491.3 L1094.5 492.1 L1096.0 492.6 L1097.6 491.3 L1099.2 491.7 L1100.7 491.7 L1102.3 491.0 L1103.9 490.4 L1105.4 491.7 L1107.0 491.6 L1108.6 490.5 L1110.1 494.1 L1111.7 491.3 L1113.8 491.3 L1115.9 492.5 L1116.7 490.8 L1117.6 489.0 L1118.4 487.7 L1119.2 487.8 L1120.0 485.4 L1120.8 484.5 L1121.7 483.8 L1122.5 482.1 L1123.3 480.5 L1124.2 479.4 L1125.0 477.6 L1125.8 480.1 L1126.9 476.5 L1127.9 474.8 L1129.0 473.8 L1130.0 472.8 L1131.1 472.1 L1132.2 470.6 L1133.2 468.6 L1134.3 468.6 L1135.7 469.0 L1137.1 469.2 L1138.5 469.7 L1140.0 471.3 L1141.4 471.9 L1142.8 473.1 L1143.2 474.5 L1143.6 474.8 L1144.0 476.5 L1144.4 478.5 L1144.8 479.6 L1145.2 481.7 L1145.6 483.5 L1146.0 485.1 L1146.4 486.3 L1146.8 487.8 L1147.3 489.4 L1147.7 490.7 L1148.1 488.4 L1148.5 493.6 L1148.9 494.7 L1149.3 496.8 L1149.7 500.4 L1150.1 499.1 L1150.5 501.4 L1150.9 502.0 L1151.3 503.7 L1151.7 502.8 L1152.0 506.4 L1152.4 508.1 L1152.8 508.8 L1153.1 511.0 L1153.5 511.9 L1153.9 513.9 L1154.2 516.0 L1154.6 514.7 L1155.0 517.6 L1155.3 520.5 L1155.7 520.9 L1156.1 522.2 L1156.4 523.6 L1156.8 525.8 L1157.2 526.8 L1157.6 529.3 L1157.9 530.8 L1158.3 534.1 L1158.7 532.7 L1159.0 534.7 L1159.4 533.5 L1159.8 536.6 L1160.1 538.8 L1160.5 540.3 L1160.9 542.4 L1161.2 543.0 L1161.6 544.5 L1162.0 546.0 L1162.3 547.8 L1162.7 549.8 L1163.1 550.5 L1163.6 552.2 L1164.0 554.1 L1164.4 555.8 L1164.9 556.6 L1165.3 558.1 L1165.7 560.3 L1166.1 561.3 L1166.6 562.6 L1167.0 564.4 L1167.4 566.6 L1167.9 565.6 L1168.3 568.2 L1169.8 569.8 L1171.4 569.1 L1172.9 570.7 L1174.5 571.1 L1176.0 570.8 L1177.6 571.7 L1179.1 571.5 L1180.7 571.9 L1182.2 571.8 L1183.8 572.2 L1185.3 573.4 L1186.9 572.1 L1188.4 572.7 L1190.0 571.3 L1191.5 572.4 L1193.1 571.4 L1194.6 571.4 L1196.2 571.0 L1197.7 569.6 L1199.3 569.1 L1200.8 567.0 L1202.4 569.6 L1203.9 568.9 L1205.5 569.4 L1207.0 569.1 L1208.6 569.4 L1210.1 568.9 L1211.7 568.1 L1213.2 568.8 L1214.8 568.1 L1216.3 568.5 L1217.9 567.8 L1219.4 568.4 L1221.0 568.0 L1222.6 567.2 L1224.2 567.0 L1225.9 566.0 L1227.5 565.5 L1229.1 564.6 L1230.7 564.2 L1230.8 563.5 L1230.9 562.4 L1231.0 560.8 L1231.1 558.5 L1231.2 557.7 L1231.3 555.5 L1231.5 553.9 L1231.6 553.2 L1231.7 551.7 L1231.8 548.8 L1231.9 547.6 L1232.0 544.7 L1232.1 544.8 L1232.2 543.8 L1232.3 541.5 L1232.4 540.0 L1232.5 538.1 L1232.6 537.7 L1232.7 536.5 L1232.8 534.9 L1233.0 532.2 L1233.1 531.2 L1233.2 529.8 L1233.3 528.7 L1233.4 526.6 L1233.5 525.6 L1233.6 523.2 L1233.8 521.3 L1233.9 520.6 L1234.1 515.5 L1234.2 518.0 L1234.4 516.7 L1234.5 514.5 L1234.7 512.5 L1234.8 512.0 L1235.0 510.0 L1235.1 508.2 L1235.3 507.1 L1235.5 505.6 L1235.6 500.1 L1235.8 502.7 L1235.9 500.1 L1236.1 499.6 L1236.2 498.2 L1236.4 495.8 L1236.5 493.8 L1236.7 493.7 L1236.8 491.5 L1237.0 490.7 L1237.5 488.7 L1237.9 487.1 L1238.4 485.1 L1238.8 484.9 L1239.3 482.5 L1239.8 481.1 L1240.2 479.7 L1240.7 477.7 L1241.2 476.8 L1241.6 475.9 L1242.1 474.6 L1242.5 471.6 L1243.0 471.0 L1243.5 469.1 L1243.9 468.7 L1244.4 466.8 L1244.8 465.1 L1245.3 464.3 L1246.7 462.1 L1248.1 461.1 L1249.5 461.2 L1250.8 459.3 L1252.2 459.4 L1253.6 457.5 L1255.0 456.1 L1256.5 457.3 L1258.0 456.0 L1259.6 455.6 L1261.1 456.6 L1262.6 456.3 L1264.1 455.1 L1265.6 456.5 L1267.1 455.3 L1268.7 455.2 L1270.2 454.7 L1271.7 456.0 L1272.8 457.0 L1273.9 458.3 L1275.0 458.8 L1276.1 459.0 L1277.2 460.3 L1278.3 459.9 L1279.4 457.3 L1280.6 456.7 L1281.7 454.7 L1282.8 454.7 L1283.9 454.4 L1285.0 455.5 L1286.1 457.9 L1287.2 457.8 L1288.3 460.2 L1289.5 460.2 L1290.6 462.4 L1291.7 463.1 L1292.8 463.1 L1293.9 465.4 L1295.3 464.4 L1296.7 463.7 L1298.1 463.0 L1299.4 461.7 L1300.8 462.2 L1302.2 460.3 L1303.8 461.1 L1305.4 460.0 L1307.0 459.5 L1308.5 459.9 L1310.1 456.5 L1311.7 460.4 L1313.3 459.4 L1314.4 459.9 L1315.5 461.5 L1316.6 462.9 L1317.7 463.9 L1318.8 464.7 L1320.0 466.3 L1321.1 467.9 L1322.2 468.9 L1323.3 470.2 L1324.4 470.0 L1326.1 470.4 L1327.8 469.7 L1329.4 469.7 L1331.1 468.3 L1332.8 468.4 L1333.6 469.1 L1334.5 470.5 L1335.3 471.4 L1336.1 475.3 L1336.9 474.8 L1337.8 474.8 L1338.6 477.2 L1339.4 478.4 L1340.3 478.8 L1341.1 480.3 L1342.7 480.7 L1344.3 482.1 L1345.9 481.5 L1347.4 482.4 L1349.0 482.7 L1350.6 483.5 L1352.2 483.6 L1353.6 485.9 L1355.0 486.5 L1356.4 487.5 L1357.8 487.7 L1359.2 488.0 L1360.5 489.2 L1361.9 490.9 L1363.3 490.6 L1364.7 492.1 L1366.1 492.0 L1367.6 491.5 L1369.2 491.4 L1370.7 491.2 L1372.3 490.8 L1373.8 490.7 L1375.4 489.4 L1376.9 489.8 L1378.5 489.0 L1380.0 489.4 L1381.5 487.9 L1383.0 488.7 L1384.6 489.5 L1386.1 489.0 L1387.6 489.9 L1389.1 489.2 L1390.6 487.4 L1392.1 489.0 L1393.7 489.7 L1395.2 489.9 L1396.7 490.8 L1397.8 488.9 L1398.9 487.4 L1400.0 486.1 L1401.1 485.7 L1402.2 484.8 L1403.6 486.0 L1405.0 488.8 L1406.4 487.8 L1407.8 489.2 L1409.3 488.0 L1410.9 489.3 L1412.4 489.2 L1414.0 489.1 L1415.5 488.3 L1417.0 489.1 L1418.6 488.4 L1420.1 488.4 L1421.7 491.2 L1423.2 488.4 L1424.7 488.4 L1426.3 488.9 L1427.8 489.5 L1429.4 488.6 L1430.9 489.1 L1432.5 489.0 L1434.0 488.8 L1435.5 488.5 L1437.1 487.2 L1438.6 489.8 L1440.2 488.8 L1441.7 490.0 L1443.2 490.1 L1444.8 488.8 L1446.3 489.1 L1447.9 489.5 L1449.4 489.4 L1450.9 489.5 L1452.5 490.3 L1454.0 489.9 L1455.5 490.6 L1457.1 489.6 L1458.6 490.5 L1460.1 491.2 L1461.6 490.8 L1463.2 491.5 L1464.7 492.9 L1466.2 491.1 L1467.8 491.1 L1469.3 492.1 L1470.8 491.5 L1472.3 492.6 L1473.9 492.2 L1475.4 492.9 L1476.9 492.2 L1478.5 492.8 L1480.0 492.3 L1481.6 491.7 L1483.2 491.2 L1484.8 491.4 L1486.3 490.5 L1487.9 490.7 L1489.5 489.5 L1491.1 488.8 L1492.7 488.9 L1494.2 489.7 L1495.8 489.9 L1497.3 489.8 L1498.9 489.1 L1500.4 489.3 L1502.0 490.2 L1503.5 488.9 L1505.1 489.4 L1506.7 490.2 L1508.2 488.9 L1509.8 490.5 L1511.3 490.4 L1512.9 489.6 L1514.4 489.9 L1516.0 489.7 L1517.6 489.4 L1519.1 491.7 L1520.7 489.4 L1522.2 489.9 L1523.8 490.5 L1525.3 491.5 L1526.9 489.4 L1528.4 490.4 L1530.0 490.4 L1530.9 491.5 L1531.9 493.0 L1532.8 493.6 L1533.1 493.3 L1533.5 490.4 L1533.8 490.1 L1534.2 488.1 L1534.5 486.8 L1534.8 488.0 L1535.2 485.8 L1535.5 481.9 L1535.9 480.0 L1536.2 478.9 L1536.6 477.5 L1536.9 475.8 L1538.3 476.8 L1539.7 477.5 L1541.1 478.4 L1542.5 479.0 L1543.9 480.2 L1545.3 478.2 L1546.7 481.3 L1548.5 481.7 L1550.4 482.5 L1552.2 482.3 L1552.9 483.2 L1553.6 485.0 L1554.3 485.8 L1555.0 486.9 L1555.7 489.4 L1556.4 490.1 L1557.1 491.5 L1557.8 492.9 L1558.5 493.5 L1559.2 496.1 L1559.4 495.4 L1559.7 497.9 L1559.9 500.8 L1560.1 501.0 L1560.3 503.0 L1560.6 504.5 L1560.8 505.8 L1561.0 507.3 L1561.2 508.7 L1561.5 510.5 L1561.7 512.9 L1561.9 514.5 L1562.2 515.8 L1562.4 517.4 L1562.6 517.4 L1562.8 520.2 L1563.1 522.0 L1563.3 523.8 L1563.5 524.5 L1563.7 526.0 L1563.9 528.0 L1564.2 529.7 L1564.4 530.1 L1564.6 532.2 L1564.8 534.2 L1565.0 535.4 L1565.2 539.4 L1565.5 537.8 L1565.7 539.2 L1565.9 540.9 L1566.1 542.9 L1566.3 546.2 L1566.5 546.1 L1566.7 546.8 L1567.0 548.2 L1567.2 550.5 L1567.4 551.1 L1567.6 553.2 L1567.8 554.7 L1568.0 555.7 L1568.3 557.9 L1568.5 559.9 L1568.7 561.3 L1568.9 562.5 L1570.3 562.7 L1571.7 564.9 L1573.0 565.5 L1574.4 566.1 L1575.0 568.4 L1575.6 568.6 L1576.2 571.1 L1576.8 571.6 L1577.4 574.0 L1578.0 573.9 L1578.6 575.8 L1579.0 575.3 L1579.4 572.4 L1579.7 571.1 L1580.1 570.7 L1580.5 569.2 L1580.9 566.7 L1581.3 565.5 L1581.7 563.8 L1582.0 562.1 L1582.4 561.6 L1582.8 559.9 L1584.5 559.0 L1586.1 558.8 L1587.8 560.0 L1589.4 559.5 L1591.1 561.2 L1591.2 557.6 L1591.3 555.9 L1591.3 554.6 L1591.4 552.8 L1591.5 551.7 L1591.6 550.6 L1591.6 548.5 L1591.7 549.5 L1591.8 545.4 L1591.9 543.8 L1591.9 543.0 L1592.0 541.1 L1592.1 539.9 L1592.2 538.3 L1592.2 536.9 L1592.3 534.9 L1592.4 533.9 L1592.5 532.4 L1592.5 530.7 L1592.6 531.4 L1592.7 527.9 L1592.8 526.4 L1592.8 524.4 L1592.9 522.8 L1593.0 521.4 L1593.1 520.0 L1593.1 519.0 L1593.2 518.0 L1593.3 518.4 L1593.4 514.6 L1593.4 512.7 L1593.5 510.6 L1593.6 509.8 L1593.7 508.8 L1593.7 507.3 L1593.8 504.9 L1593.9 503.2 L1595.6 506.5 L1597.2 505.0 L1598.9 505.1 L1600.5 506.5 L1602.2 507.1 L1603.6 505.2 L1605.0 505.4 L1606.4 504.1 L1607.8 503.3 L1609.1 503.1 L1610.5 502.8 L1611.9 502.2 L1613.3 501.7 L1614.9 500.3 L1616.5 500.9 L1618.1 499.7 L1619.6 499.8 L1621.2 498.8 L1622.8 499.1 L1624.4 497.6 L1625.8 497.6 L1627.2 496.1 L1628.6 495.1 L1630.0 493.6 L1631.6 494.2 L1633.2 494.5 L1634.8 493.5 L1636.3 493.6 L1637.9 493.2 L1639.5 493.0 L1641.1 492.8"/><path d="M796.4 672.1 L797.9 672.6 L799.5 672.5 L801.0 673.9 L802.5 674.0 L804.0 674.0 L805.6 673.7 L807.1 674.1 L808.6 675.2 L810.2 675.4 L811.7 675.0 L813.2 676.0 L814.7 676.7 L816.2 676.7 L817.7 677.0 L819.2 677.4 L820.7 678.4 L822.1 678.3 L823.6 679.3 L825.1 679.6 L826.6 679.5 L828.1 680.1 L829.6 679.9 L831.1 679.4 L832.5 680.7 L833.9 679.4 L835.3 677.9 L836.7 677.0 L838.0 677.0 L839.4 675.6 L840.8 675.3 L842.2 674.0 L843.7 675.0 L845.3 674.3 L846.8 675.2 L848.3 675.3 L849.9 674.2 L851.4 674.3 L852.9 674.7 L854.4 674.8 L856.0 674.9 L857.5 675.5 L859.0 675.9 L860.6 674.8 L862.1 676.1 L863.6 675.2 L865.1 675.2 L866.7 675.6 L868.2 675.7 L869.7 676.6 L871.3 675.9 L872.8 676.7 L874.2 676.3 L875.5 677.9 L876.9 678.7 L878.3 679.5 L879.3 677.5 L880.4 676.7 L881.5 676.0 L882.5 674.1 L883.5 673.3 L884.6 672.0 L885.7 670.8 L886.7 670.8 L888.2 669.2 L889.8 670.0 L891.3 668.8 L892.9 669.4 L894.4 669.1 L896.0 669.4 L897.5 669.4 L899.1 668.4 L900.6 669.4 L902.2 669.4 L903.8 669.0 L905.4 668.9 L906.9 668.6 L908.5 668.8 L910.1 669.0 L911.7 667.8 L913.3 668.9 L914.9 667.6 L916.5 667.6 L918.0 668.3 L919.6 667.5 L921.2 668.0 L922.8 668.4 L924.3 667.5 L925.9 668.0 L927.4 668.6 L929.0 669.9 L930.5 670.0 L932.1 670.0 L933.6 670.6 L935.2 671.6 L936.7 669.6 L938.2 671.4 L939.7 671.9 L941.2 671.9 L942.7 673.3 L944.2 672.8 L945.7 672.8 L947.1 673.6 L948.6 674.6 L950.1 674.6 L951.6 674.3 L953.1 675.3 L954.6 674.8 L956.1 675.2 L957.6 674.8 L959.0 675.1 L960.5 674.7 L962.0 673.1 L963.5 673.1 L964.9 673.1 L966.4 672.9 L967.9 671.4 L969.3 671.3 L970.8 671.2 L972.3 670.7 L973.7 670.0 L975.2 669.7 L976.7 670.2 L978.2 669.4 L979.6 668.5 L981.1 668.3 L982.6 668.2 L984.2 669.1 L985.7 668.8 L987.2 669.5 L988.8 669.6 L990.3 669.0 L991.8 670.2 L993.3 670.5 L994.9 670.3 L996.4 670.6 L997.9 670.5 L999.5 670.4 L1001.0 670.8 L1002.5 668.3 L1004.1 671.9 L1005.6 671.2 L1007.1 671.9 L1008.6 672.7 L1010.2 672.9 L1011.7 672.7 L1012.8 673.9 L1013.8 675.1 L1014.9 676.3 L1016.0 676.9 L1017.0 678.1 L1018.1 678.5 L1019.2 680.2 L1020.3 681.6 L1021.3 682.0 L1022.4 682.9 L1023.5 683.6 L1024.5 685.4 L1025.6 686.6 L1026.9 687.9 L1028.1 687.7 L1029.4 689.7 L1030.6 690.5 L1031.9 690.5 L1033.1 691.4 L1034.4 693.2 L1035.6 693.8 L1036.9 694.0 L1038.1 695.8 L1039.4 696.5 L1040.9 696.5 L1042.4 696.4 L1043.9 696.6 L1045.4 696.7 L1046.9 697.2 L1048.4 698.7 L1049.9 698.9 L1051.4 699.0 L1052.9 699.6 L1054.4 699.6 L1055.9 699.9 L1057.4 700.1 L1058.9 699.8 L1060.3 700.9 L1061.7 701.0 L1063.1 701.7 L1064.4 702.9 L1065.8 703.0 L1067.2 702.1 L1068.6 704.8 L1069.7 702.6 L1070.8 701.3 L1071.8 700.0 L1072.9 699.5 L1074.0 698.2 L1075.1 697.5 L1076.1 696.0 L1077.2 694.1 L1078.3 692.9 L1079.8 693.6 L1081.3 693.4 L1082.8 692.4 L1084.2 692.7 L1085.7 692.0 L1087.2 691.8 L1088.7 691.4 L1090.2 691.5 L1091.7 690.5 L1093.2 690.0 L1094.7 689.6 L1096.1 690.0 L1097.6 690.3 L1099.1 688.8 L1100.6 689.7 L1102.0 687.7 L1103.4 687.3 L1104.7 686.2 L1106.1 685.9 L1107.5 685.5 L1108.9 683.6 L1110.3 683.0 L1111.6 683.0 L1113.0 681.0 L1114.4 680.4 L1116.0 680.9 L1117.5 681.0 L1119.1 680.2 L1120.7 679.3 L1122.2 678.9 L1123.8 679.3 L1125.3 678.7 L1126.9 679.0 L1128.5 678.1 L1130.0 678.1 L1131.6 677.7 L1133.2 678.4 L1134.7 677.3 L1136.3 676.8 L1137.8 676.4 L1139.4 676.9 L1141.0 676.8 L1142.5 676.2 L1144.1 676.7 L1145.7 676.4 L1147.2 675.6 L1148.8 676.0 L1150.3 674.4 L1151.9 675.2 L1153.5 674.9 L1155.0 675.0 L1156.6 675.3 L1158.2 674.4 L1159.7 674.4 L1161.3 674.0 L1162.8 674.1 L1164.4 673.7 L1165.9 674.1 L1167.5 674.3 L1169.0 674.8 L1170.6 673.6 L1172.1 674.5 L1173.7 674.4 L1175.2 674.2 L1176.8 673.8 L1178.3 672.9 L1179.8 672.8 L1181.4 673.3 L1182.9 672.9 L1184.5 673.5 L1186.0 672.3 L1187.6 672.4 L1189.1 672.8 L1190.7 672.8 L1192.2 672.3 L1193.7 673.5 L1195.2 673.1 L1196.8 671.6 L1198.3 674.3 L1199.8 674.5 L1201.3 675.4 L1202.8 675.6 L1204.3 676.2 L1205.9 673.9 L1207.4 676.7 L1208.9 677.0 L1210.2 677.5 L1211.4 678.1 L1212.7 679.3 L1214.0 680.1 L1215.2 681.4 L1216.5 682.1 L1217.7 683.6 L1219.0 684.9 L1220.3 685.3 L1221.5 686.4 L1222.8 687.9 L1224.3 688.7 L1225.9 689.4 L1227.4 689.6 L1229.0 690.2 L1230.5 689.9 L1232.1 691.2 L1233.6 691.7 L1235.2 691.6 L1236.7 692.4 L1238.2 692.9 L1239.8 693.3 L1241.3 692.7 L1242.9 691.3 L1244.4 692.6 L1246.0 692.9 L1247.5 692.6 L1249.1 692.7 L1250.6 693.7 L1252.2 692.8 L1253.7 692.4 L1255.3 693.6 L1256.8 692.5 L1258.4 692.6 L1259.9 693.8 L1261.5 693.7 L1263.0 693.7 L1264.6 693.9 L1266.1 691.6 L1267.3 692.5 L1268.6 691.0 L1269.8 690.5 L1271.0 689.5 L1272.3 688.4 L1273.5 687.7 L1274.7 687.9 L1276.0 686.5 L1277.2 685.8 L1278.5 684.8 L1279.8 683.8 L1281.1 684.0 L1282.3 681.6 L1283.6 680.6 L1284.9 679.9 L1286.2 678.5 L1287.5 677.4 L1288.8 677.2 L1290.0 676.1 L1291.3 674.6 L1292.6 674.3 L1293.9 673.7 L1295.5 672.8 L1297.1 672.7 L1298.8 672.6 L1300.4 672.8 L1302.0 672.5 L1303.6 672.4 L1305.2 673.0 L1306.8 673.0 L1308.5 671.9 L1310.1 669.4 L1311.7 672.5 L1313.3 672.8 L1314.8 672.4 L1316.3 672.4 L1317.9 672.1 L1319.4 670.7 L1320.9 671.5 L1322.4 672.1 L1323.9 672.3 L1325.4 672.0 L1327.0 673.8 L1328.5 672.0 L1330.0 672.0 L1331.5 672.3 L1333.0 671.7 L1334.6 672.2 L1336.1 671.6 L1337.6 671.7 L1339.1 672.0 L1340.6 672.1 L1342.1 671.9 L1343.7 672.8 L1345.2 672.6 L1346.7 672.0 L1348.4 670.9 L1350.0 671.6 L1351.7 669.8 L1353.3 669.1 L1355.0 668.4 L1356.5 668.9 L1358.0 669.2 L1359.6 668.9 L1361.1 668.3 L1362.6 669.2 L1364.1 668.6 L1365.6 668.5 L1367.1 668.9 L1368.7 668.2 L1370.2 668.7 L1371.7 668.1 L1373.3 668.7 L1374.8 669.5 L1376.4 669.2 L1378.0 669.0 L1379.5 669.6 L1381.1 670.3 L1382.6 671.0 L1384.2 670.0 L1385.8 670.9 L1387.3 671.6 L1388.9 671.7 L1390.5 671.8 L1392.0 672.3 L1393.6 671.8 L1395.1 672.6 L1396.7 672.9 L1398.1 673.4 L1399.5 672.6 L1400.8 675.4 L1402.2 676.3 L1403.6 676.7 L1405.0 676.6 L1406.4 678.4 L1407.8 678.0 L1409.2 679.1 L1410.5 680.1 L1411.9 681.3 L1413.3 681.6 L1414.8 681.4 L1416.3 682.6 L1417.9 682.7 L1419.4 682.5 L1420.9 682.7 L1422.4 683.2 L1423.9 684.2 L1425.4 684.5 L1427.0 684.7 L1428.5 685.0 L1430.0 685.4 L1431.6 684.7 L1433.2 684.9 L1434.8 686.1 L1436.3 686.3 L1437.9 686.1 L1439.5 686.4 L1441.1 685.7 L1442.7 686.7 L1444.3 686.5 L1445.9 687.4 L1447.4 687.6 L1449.0 688.0 L1450.6 687.4 L1452.2 688.0 L1453.7 686.9 L1455.2 687.0 L1456.6 686.2 L1458.1 686.0 L1459.6 685.7 L1461.1 685.7 L1462.6 684.4 L1464.0 684.5 L1465.5 686.2 L1467.0 684.0 L1468.5 683.2 L1470.0 683.3 L1471.4 682.7 L1472.9 681.5 L1474.4 680.9 L1475.8 681.2 L1477.2 679.9 L1478.6 678.9 L1480.0 678.8 L1481.4 677.5 L1482.8 676.6 L1484.1 676.7 L1485.5 674.7 L1486.9 674.2 L1488.3 674.0 L1489.7 672.9 L1491.1 672.3 L1492.7 672.2 L1494.3 671.4 L1495.9 670.9 L1497.4 670.6 L1499.0 671.6 L1500.6 668.7 L1502.2 670.4 L1503.8 670.3 L1505.4 669.8 L1507.0 669.8 L1508.5 669.0 L1510.1 668.7 L1511.7 668.7 L1513.3 668.2 L1514.9 668.8 L1516.5 669.7 L1518.1 668.9 L1519.7 669.6 L1521.3 669.7 L1522.9 670.2 L1524.4 669.8 L1526.0 671.2 L1527.6 671.0 L1529.2 670.8 L1530.8 671.5 L1532.4 671.7 L1534.0 671.7 L1535.6 672.1 L1537.1 672.0 L1538.7 671.1 L1540.2 671.5 L1541.8 674.1 L1543.3 671.4 L1544.8 672.5 L1546.4 672.5 L1547.9 672.4 L1549.4 671.9 L1551.0 672.4 L1552.5 671.8 L1554.1 672.6 L1555.6 672.0 L1557.1 672.6 L1558.7 671.8 L1560.2 672.2 L1561.8 672.7 L1563.3 671.8 L1564.8 672.3 L1566.3 672.2 L1567.8 673.1 L1569.4 672.4 L1570.9 672.6 L1572.4 672.8 L1573.9 672.2 L1575.4 673.3 L1576.9 672.2 L1578.5 673.0 L1580.0 673.0 L1581.5 673.7 L1583.0 673.1 L1584.5 672.8 L1586.0 673.2 L1587.5 673.7 L1589.1 673.4 L1590.6 672.9 L1592.1 673.3 L1593.6 673.2 L1595.1 674.1 L1596.6 673.5 L1598.1 674.0 L1599.7 673.6 L1601.2 673.6 L1602.7 674.4 L1604.2 673.6 L1605.7 674.3 L1607.2 673.5 L1608.8 673.5 L1610.3 674.0 L1611.8 673.8 L1613.3 673.8 L1614.8 674.6 L1616.4 673.7 L1617.9 673.6 L1619.5 674.3 L1621.0 674.3 L1622.6 674.3 L1624.1 674.4 L1625.7 674.3 L1627.2 673.7 L1628.7 674.0 L1630.3 673.1 L1631.8 673.8 L1633.4 673.0 L1634.9 673.5 L1636.5 673.9 L1638.0 673.4 L1639.6 673.2 L1641.1 673.1"/><path d="M780.8 866.4 C786.6 868.2 802.9 875.0 815.6 877.5 C828.3 880.0 843.3 881.9 857.2 881.7 C871.1 881.5 886.4 879.4 898.9 876.1 C911.4 872.9 921.6 868.2 932.2 862.2 C942.9 856.2 954.9 847.9 962.8 840.0 C970.7 832.1 974.8 823.3 979.4 815.0 C984.0 806.7 986.9 797.4 990.6 790.0 C994.3 782.6 997.5 774.3 1001.7 770.6 C1005.9 766.9 1011.0 767.3 1015.6 767.8 C1020.2 768.2 1025.2 768.7 1029.4 773.3 C1033.6 777.9 1036.9 786.3 1040.6 795.6 C1044.3 804.9 1047.5 819.2 1051.7 828.9 C1055.9 838.6 1059.6 846.0 1065.6 853.9 C1071.6 861.8 1079.9 870.8 1087.8 876.1 C1095.7 881.4 1105.9 884.6 1112.8 885.8 C1119.7 887.0 1121.5 887.0 1129.4 883.1 C1137.3 879.2 1152.1 869.4 1160.0 862.2 C1167.9 855.0 1171.6 850.2 1176.7 840.0 C1181.8 829.8 1186.4 811.8 1190.6 801.1 C1194.8 790.5 1197.5 781.7 1201.7 776.1 C1205.9 770.5 1210.7 768.6 1215.6 767.8 C1220.5 767.0 1226.8 767.8 1231.3 771.2 C1235.8 774.6 1238.9 780.2 1242.7 788.2 C1246.5 796.2 1249.8 810.0 1254.0 819.4 C1258.2 828.8 1262.0 837.3 1268.2 844.9 C1274.4 852.5 1282.9 860.1 1290.9 864.8 C1298.9 869.5 1307.9 874.2 1316.4 873.3 C1324.9 872.3 1333.4 865.2 1341.9 859.1 C1350.4 853.0 1360.8 844.9 1367.4 836.4 C1374.0 827.9 1377.3 817.9 1381.6 808.0 C1385.9 798.1 1388.3 784.4 1393.0 776.9 C1397.7 769.4 1404.8 764.1 1410.0 762.7 C1415.2 761.3 1419.8 763.7 1424.1 768.4 C1428.3 773.1 1431.7 782.5 1435.5 791.0 C1439.3 799.5 1441.6 810.9 1446.8 819.4 C1452.0 827.9 1459.1 835.7 1466.7 842.1 C1474.3 848.5 1481.3 855.1 1492.2 857.7 C1503.1 860.3 1515.8 856.8 1531.9 857.7 C1548.0 858.6 1567.3 862.1 1588.6 863.3 C1609.9 864.5 1647.7 864.5 1659.5 864.8" stroke-width="2.3" stroke="#3c3c3c"/>
</g>
<g filter="url(#blur2)" font-family="'Liberation Serif', serif" font-weight="bold" fill="#151515" stroke="#151515" stroke-width="0.2">
<text x="0" y="0" font-size="32" letter-spacing="1.70" transform="translate(770.3 181.2) scale(0.971 1)">Fetal Heart Rate</text><text x="0" y="0" font-size="32" letter-spacing="1.76" transform="translate(770.3 221.2) scale(0.954 1)">Aceleration</text><text x="0" y="0" font-size="33" letter-spacing="1.73" transform="translate(773.9 333.8) scale(0.940 1)">Early Deceleration</text><text x="0" y="0" font-size="30.5" letter-spacing="1.57" transform="translate(771.3 467.5) scale(1.025 1)">Variable Deceleration</text><text x="0" y="0" font-size="30.5" letter-spacing="1.61" transform="translate(796.4 643.0) scale(1.016 1)">Late Deceleration</text><text x="0" y="0" font-size="32" letter-spacing="1.91" transform="translate(772.5 782.0) scale(0.933 1)">Uterine</text><text x="0" y="0" font-size="32" letter-spacing="1.84" transform="translate(772.5 821.5) scale(0.953 1)">Contraction</text><text x="0" y="0" font-size="32" letter-spacing="0.00" transform="translate(1653.0 246.2) scale(1.069 1)">A</text><text x="0" y="0" font-size="30" letter-spacing="0.00" transform="translate(1656.6 359.6) scale(1.020 1)">B</text><text x="0" y="0" font-size="30" letter-spacing="0.00" transform="translate(1657.8 498.3) scale(1.088 1)">C</text><text x="0" y="0" font-size="30" letter-spacing="0.00" transform="translate(1664.7 681.4) scale(0.963 1)">D</text><text x="0" y="0" font-size="30" letter-spacing="0.00" transform="translate(1670.8 873.3) scale(0.995 1)">E</text>
</g>
</svg>
</body></html>
